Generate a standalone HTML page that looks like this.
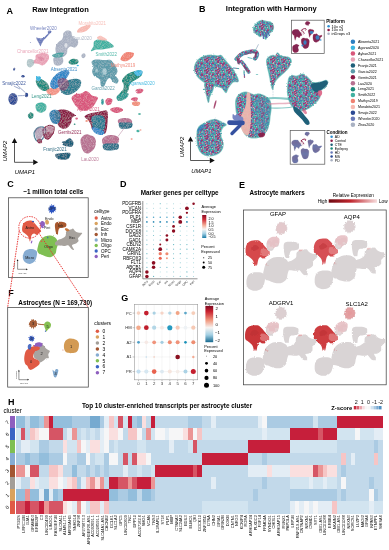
<!DOCTYPE html><html><head><meta charset="utf-8"><style>html,body{margin:0;padding:0;background:#fff;overflow:hidden}svg{display:block}text{font-family:"Liberation Sans",Arial,sans-serif}</style></head><body>
<svg width="389" height="550" viewBox="0 0 389 550">
<rect width="389" height="550" fill="#fff"/>
<g shape-rendering="crispEdges">
<rect x="16.20" y="416.10" width="9.34" height="12.22" fill="#93bedc"/>
<rect x="25.49" y="416.10" width="4.69" height="12.22" fill="#c2d9ea"/>
<rect x="30.13" y="416.10" width="9.34" height="12.22" fill="#93bedc"/>
<rect x="39.42" y="416.10" width="4.69" height="12.22" fill="#abcbe3"/>
<rect x="44.06" y="416.10" width="4.69" height="12.22" fill="#eb9595"/>
<rect x="48.70" y="416.10" width="4.69" height="12.22" fill="#c61f3b"/>
<rect x="53.34" y="416.10" width="18.62" height="12.22" fill="#93bedc"/>
<rect x="71.92" y="416.10" width="18.62" height="12.22" fill="#abcbe3"/>
<rect x="90.49" y="416.10" width="9.34" height="12.22" fill="#76aad0"/>
<rect x="99.77" y="416.10" width="4.69" height="12.22" fill="#abcbe3"/>
<rect x="104.42" y="416.10" width="4.69" height="12.22" fill="#e3edf5"/>
<rect x="109.06" y="416.10" width="4.69" height="12.22" fill="#f6c5c5"/>
<rect x="113.70" y="416.10" width="4.69" height="12.22" fill="#d2e4f0"/>
<rect x="118.35" y="416.10" width="4.69" height="12.22" fill="#d65565"/>
<rect x="122.99" y="416.10" width="4.69" height="12.22" fill="#d2e4f0"/>
<rect x="127.63" y="416.10" width="4.69" height="12.22" fill="#c61f3b"/>
<rect x="132.28" y="416.10" width="4.69" height="12.22" fill="#abcbe3"/>
<rect x="136.92" y="416.10" width="4.69" height="12.22" fill="#93bedc"/>
<rect x="141.56" y="416.10" width="4.69" height="12.22" fill="#fadfdf"/>
<rect x="146.21" y="416.10" width="4.69" height="12.22" fill="#c2d9ea"/>
<rect x="150.85" y="416.10" width="4.69" height="12.22" fill="#c61f3b"/>
<rect x="155.49" y="416.10" width="32.55" height="12.22" fill="#c2d9ea"/>
<rect x="187.99" y="416.10" width="13.98" height="12.22" fill="#abcbe3"/>
<rect x="201.92" y="416.10" width="9.34" height="12.22" fill="#c2d9ea"/>
<rect x="211.21" y="416.10" width="4.69" height="12.22" fill="#e3edf5"/>
<rect x="215.85" y="416.10" width="41.84" height="12.22" fill="#c2d9ea"/>
<rect x="257.64" y="416.10" width="4.69" height="12.22" fill="#e3edf5"/>
<rect x="262.28" y="416.10" width="4.69" height="12.22" fill="#f6f6f7"/>
<rect x="266.92" y="416.10" width="46.48" height="12.22" fill="#abcbe3"/>
<rect x="313.35" y="416.10" width="4.69" height="12.22" fill="#d2e4f0"/>
<rect x="318.00" y="416.10" width="18.62" height="12.22" fill="#abcbe3"/>
<rect x="336.57" y="416.10" width="46.48" height="12.22" fill="#c61f3b"/>
<rect x="10.2" y="416.10" width="4.9" height="12.22" fill="#8e5fbf"/>
<rect x="16.20" y="428.28" width="4.69" height="12.22" fill="#d2e4f0"/>
<rect x="20.84" y="428.28" width="4.69" height="12.22" fill="#d65565"/>
<rect x="25.49" y="428.28" width="4.69" height="12.22" fill="#c2d9ea"/>
<rect x="30.13" y="428.28" width="4.69" height="12.22" fill="#f6c5c5"/>
<rect x="34.77" y="428.28" width="4.69" height="12.22" fill="#fadfdf"/>
<rect x="39.42" y="428.28" width="9.34" height="12.22" fill="#f6f6f7"/>
<rect x="48.70" y="428.28" width="13.98" height="12.22" fill="#d65565"/>
<rect x="62.63" y="428.28" width="4.69" height="12.22" fill="#c2d9ea"/>
<rect x="67.27" y="428.28" width="4.69" height="12.22" fill="#e3edf5"/>
<rect x="71.92" y="428.28" width="4.69" height="12.22" fill="#eb9595"/>
<rect x="76.56" y="428.28" width="4.69" height="12.22" fill="#c2d9ea"/>
<rect x="81.20" y="428.28" width="4.69" height="12.22" fill="#d2e4f0"/>
<rect x="85.85" y="428.28" width="4.69" height="12.22" fill="#c2d9ea"/>
<rect x="90.49" y="428.28" width="4.69" height="12.22" fill="#d2e4f0"/>
<rect x="95.13" y="428.28" width="4.69" height="12.22" fill="#c2d9ea"/>
<rect x="99.77" y="428.28" width="4.69" height="12.22" fill="#e3edf5"/>
<rect x="104.42" y="428.28" width="4.69" height="12.22" fill="#f6f6f7"/>
<rect x="109.06" y="428.28" width="9.34" height="12.22" fill="#fadfdf"/>
<rect x="118.35" y="428.28" width="4.69" height="12.22" fill="#f6f6f7"/>
<rect x="122.99" y="428.28" width="4.69" height="12.22" fill="#c2d9ea"/>
<rect x="127.63" y="428.28" width="9.34" height="12.22" fill="#f6c5c5"/>
<rect x="136.92" y="428.28" width="4.69" height="12.22" fill="#f6f6f7"/>
<rect x="141.56" y="428.28" width="4.69" height="12.22" fill="#c2d9ea"/>
<rect x="146.21" y="428.28" width="4.69" height="12.22" fill="#eb9595"/>
<rect x="150.85" y="428.28" width="4.69" height="12.22" fill="#d2e4f0"/>
<rect x="155.49" y="428.28" width="9.34" height="12.22" fill="#f6f6f7"/>
<rect x="164.78" y="428.28" width="4.69" height="12.22" fill="#e3edf5"/>
<rect x="169.42" y="428.28" width="13.98" height="12.22" fill="#f6f6f7"/>
<rect x="183.35" y="428.28" width="4.69" height="12.22" fill="#fadfdf"/>
<rect x="187.99" y="428.28" width="4.69" height="12.22" fill="#eb9595"/>
<rect x="192.64" y="428.28" width="4.69" height="12.22" fill="#f6f6f7"/>
<rect x="197.28" y="428.28" width="4.69" height="12.22" fill="#f6c5c5"/>
<rect x="201.92" y="428.28" width="60.41" height="12.22" fill="#d2e4f0"/>
<rect x="262.28" y="428.28" width="4.69" height="12.22" fill="#e3edf5"/>
<rect x="266.92" y="428.28" width="23.27" height="12.22" fill="#d2e4f0"/>
<rect x="290.14" y="428.28" width="27.91" height="12.22" fill="#c61f3b"/>
<rect x="318.00" y="428.28" width="4.69" height="12.22" fill="#d65565"/>
<rect x="322.64" y="428.28" width="13.98" height="12.22" fill="#c61f3b"/>
<rect x="336.57" y="428.28" width="18.62" height="12.22" fill="#d2e4f0"/>
<rect x="355.14" y="428.28" width="4.69" height="12.22" fill="#f6f6f7"/>
<rect x="359.78" y="428.28" width="13.98" height="12.22" fill="#d2e4f0"/>
<rect x="373.71" y="428.28" width="9.34" height="12.22" fill="#e3edf5"/>
<rect x="10.2" y="428.28" width="4.9" height="12.22" fill="#3a63c4"/>
<rect x="16.20" y="440.45" width="4.69" height="12.22" fill="#c2d9ea"/>
<rect x="20.84" y="440.45" width="9.34" height="12.22" fill="#e3edf5"/>
<rect x="30.13" y="440.45" width="9.34" height="12.22" fill="#d2e4f0"/>
<rect x="39.42" y="440.45" width="9.34" height="12.22" fill="#abcbe3"/>
<rect x="48.70" y="440.45" width="13.98" height="12.22" fill="#c2d9ea"/>
<rect x="62.63" y="440.45" width="4.69" height="12.22" fill="#fadfdf"/>
<rect x="67.27" y="440.45" width="9.34" height="12.22" fill="#d2e4f0"/>
<rect x="76.56" y="440.45" width="4.69" height="12.22" fill="#f6c5c5"/>
<rect x="81.20" y="440.45" width="4.69" height="12.22" fill="#f6f6f7"/>
<rect x="85.85" y="440.45" width="4.69" height="12.22" fill="#e3edf5"/>
<rect x="90.49" y="440.45" width="9.34" height="12.22" fill="#fadfdf"/>
<rect x="99.77" y="440.45" width="4.69" height="12.22" fill="#e3edf5"/>
<rect x="104.42" y="440.45" width="4.69" height="12.22" fill="#f6f6f7"/>
<rect x="109.06" y="440.45" width="4.69" height="12.22" fill="#c2d9ea"/>
<rect x="113.70" y="440.45" width="4.69" height="12.22" fill="#d2e4f0"/>
<rect x="118.35" y="440.45" width="18.62" height="12.22" fill="#c2d9ea"/>
<rect x="136.92" y="440.45" width="9.34" height="12.22" fill="#d2e4f0"/>
<rect x="146.21" y="440.45" width="23.27" height="12.22" fill="#c2d9ea"/>
<rect x="169.42" y="440.45" width="4.69" height="12.22" fill="#e3edf5"/>
<rect x="174.06" y="440.45" width="13.98" height="12.22" fill="#c2d9ea"/>
<rect x="187.99" y="440.45" width="4.69" height="12.22" fill="#d2e4f0"/>
<rect x="192.64" y="440.45" width="4.69" height="12.22" fill="#d65565"/>
<rect x="197.28" y="440.45" width="51.12" height="12.22" fill="#c2d9ea"/>
<rect x="248.35" y="440.45" width="41.84" height="12.22" fill="#c61f3b"/>
<rect x="290.14" y="440.45" width="46.48" height="12.22" fill="#d2e4f0"/>
<rect x="336.57" y="440.45" width="37.19" height="12.22" fill="#c2d9ea"/>
<rect x="373.71" y="440.45" width="4.69" height="12.22" fill="#abcbe3"/>
<rect x="378.36" y="440.45" width="4.69" height="12.22" fill="#c2d9ea"/>
<rect x="10.2" y="440.45" width="4.9" height="12.22" fill="#7fbf52"/>
<rect x="16.20" y="452.62" width="9.34" height="12.22" fill="#abcbe3"/>
<rect x="25.49" y="452.62" width="4.69" height="12.22" fill="#93bedc"/>
<rect x="30.13" y="452.62" width="9.34" height="12.22" fill="#abcbe3"/>
<rect x="39.42" y="452.62" width="9.34" height="12.22" fill="#93bedc"/>
<rect x="48.70" y="452.62" width="13.98" height="12.22" fill="#abcbe3"/>
<rect x="62.63" y="452.62" width="4.69" height="12.22" fill="#f6f6f7"/>
<rect x="67.27" y="452.62" width="9.34" height="12.22" fill="#c2d9ea"/>
<rect x="76.56" y="452.62" width="9.34" height="12.22" fill="#abcbe3"/>
<rect x="85.85" y="452.62" width="4.69" height="12.22" fill="#f6f6f7"/>
<rect x="90.49" y="452.62" width="4.69" height="12.22" fill="#c2d9ea"/>
<rect x="95.13" y="452.62" width="9.34" height="12.22" fill="#d2e4f0"/>
<rect x="104.42" y="452.62" width="4.69" height="12.22" fill="#abcbe3"/>
<rect x="109.06" y="452.62" width="9.34" height="12.22" fill="#f6f6f7"/>
<rect x="118.35" y="452.62" width="4.69" height="12.22" fill="#c2d9ea"/>
<rect x="122.99" y="452.62" width="4.69" height="12.22" fill="#d65565"/>
<rect x="127.63" y="452.62" width="4.69" height="12.22" fill="#c2d9ea"/>
<rect x="132.28" y="452.62" width="4.69" height="12.22" fill="#d65565"/>
<rect x="136.92" y="452.62" width="9.34" height="12.22" fill="#fadfdf"/>
<rect x="146.21" y="452.62" width="4.69" height="12.22" fill="#f6f6f7"/>
<rect x="150.85" y="452.62" width="51.12" height="12.22" fill="#c2d9ea"/>
<rect x="201.92" y="452.62" width="46.48" height="12.22" fill="#c61f3b"/>
<rect x="248.35" y="452.62" width="13.98" height="12.22" fill="#c2d9ea"/>
<rect x="262.28" y="452.62" width="4.69" height="12.22" fill="#abcbe3"/>
<rect x="266.92" y="452.62" width="74.34" height="12.22" fill="#c2d9ea"/>
<rect x="341.21" y="452.62" width="4.69" height="12.22" fill="#f6c5c5"/>
<rect x="345.86" y="452.62" width="4.69" height="12.22" fill="#c2d9ea"/>
<rect x="350.50" y="452.62" width="4.69" height="12.22" fill="#e3edf5"/>
<rect x="355.14" y="452.62" width="18.62" height="12.22" fill="#c2d9ea"/>
<rect x="373.71" y="452.62" width="4.69" height="12.22" fill="#f6c5c5"/>
<rect x="378.36" y="452.62" width="4.69" height="12.22" fill="#c2d9ea"/>
<rect x="10.2" y="452.62" width="4.9" height="12.22" fill="#86acd2"/>
<rect x="16.20" y="464.80" width="9.34" height="12.22" fill="#eb9595"/>
<rect x="25.49" y="464.80" width="4.69" height="12.22" fill="#f6f6f7"/>
<rect x="30.13" y="464.80" width="9.34" height="12.22" fill="#d65565"/>
<rect x="39.42" y="464.80" width="9.34" height="12.22" fill="#c2d9ea"/>
<rect x="48.70" y="464.80" width="9.34" height="12.22" fill="#f6c5c5"/>
<rect x="57.99" y="464.80" width="4.69" height="12.22" fill="#fadfdf"/>
<rect x="62.63" y="464.80" width="9.34" height="12.22" fill="#c2d9ea"/>
<rect x="71.92" y="464.80" width="4.69" height="12.22" fill="#93bedc"/>
<rect x="76.56" y="464.80" width="9.34" height="12.22" fill="#c2d9ea"/>
<rect x="85.85" y="464.80" width="4.69" height="12.22" fill="#abcbe3"/>
<rect x="90.49" y="464.80" width="4.69" height="12.22" fill="#c2d9ea"/>
<rect x="95.13" y="464.80" width="4.69" height="12.22" fill="#abcbe3"/>
<rect x="99.77" y="464.80" width="4.69" height="12.22" fill="#c2d9ea"/>
<rect x="104.42" y="464.80" width="4.69" height="12.22" fill="#abcbe3"/>
<rect x="109.06" y="464.80" width="13.98" height="12.22" fill="#c2d9ea"/>
<rect x="122.99" y="464.80" width="4.69" height="12.22" fill="#e3edf5"/>
<rect x="127.63" y="464.80" width="9.34" height="12.22" fill="#c2d9ea"/>
<rect x="136.92" y="464.80" width="4.69" height="12.22" fill="#d2e4f0"/>
<rect x="141.56" y="464.80" width="9.34" height="12.22" fill="#c2d9ea"/>
<rect x="150.85" y="464.80" width="4.69" height="12.22" fill="#d2e4f0"/>
<rect x="155.49" y="464.80" width="37.19" height="12.22" fill="#c61f3b"/>
<rect x="192.64" y="464.80" width="4.69" height="12.22" fill="#d65565"/>
<rect x="197.28" y="464.80" width="4.69" height="12.22" fill="#c61f3b"/>
<rect x="201.92" y="464.80" width="46.48" height="12.22" fill="#c2d9ea"/>
<rect x="248.35" y="464.80" width="18.62" height="12.22" fill="#e3edf5"/>
<rect x="266.92" y="464.80" width="4.69" height="12.22" fill="#fadfdf"/>
<rect x="271.57" y="464.80" width="18.62" height="12.22" fill="#e3edf5"/>
<rect x="290.14" y="464.80" width="23.27" height="12.22" fill="#fadfdf"/>
<rect x="313.35" y="464.80" width="4.69" height="12.22" fill="#d65565"/>
<rect x="318.00" y="464.80" width="4.69" height="12.22" fill="#eb9595"/>
<rect x="322.64" y="464.80" width="4.69" height="12.22" fill="#f6c5c5"/>
<rect x="327.28" y="464.80" width="9.34" height="12.22" fill="#fadfdf"/>
<rect x="336.57" y="464.80" width="4.69" height="12.22" fill="#c2d9ea"/>
<rect x="341.21" y="464.80" width="4.69" height="12.22" fill="#abcbe3"/>
<rect x="345.86" y="464.80" width="37.19" height="12.22" fill="#c2d9ea"/>
<rect x="10.2" y="464.80" width="4.9" height="12.22" fill="#a35632"/>
<rect x="16.20" y="476.98" width="4.69" height="12.22" fill="#e3edf5"/>
<rect x="20.84" y="476.98" width="9.34" height="12.22" fill="#c2d9ea"/>
<rect x="30.13" y="476.98" width="4.69" height="12.22" fill="#fadfdf"/>
<rect x="34.77" y="476.98" width="4.69" height="12.22" fill="#e3edf5"/>
<rect x="39.42" y="476.98" width="9.34" height="12.22" fill="#d2e4f0"/>
<rect x="48.70" y="476.98" width="9.34" height="12.22" fill="#fadfdf"/>
<rect x="57.99" y="476.98" width="4.69" height="12.22" fill="#f6f6f7"/>
<rect x="62.63" y="476.98" width="4.69" height="12.22" fill="#e3edf5"/>
<rect x="67.27" y="476.98" width="4.69" height="12.22" fill="#fadfdf"/>
<rect x="71.92" y="476.98" width="4.69" height="12.22" fill="#f6c5c5"/>
<rect x="76.56" y="476.98" width="4.69" height="12.22" fill="#abcbe3"/>
<rect x="81.20" y="476.98" width="4.69" height="12.22" fill="#e3edf5"/>
<rect x="85.85" y="476.98" width="4.69" height="12.22" fill="#f6c5c5"/>
<rect x="90.49" y="476.98" width="4.69" height="12.22" fill="#eb9595"/>
<rect x="95.13" y="476.98" width="4.69" height="12.22" fill="#fadfdf"/>
<rect x="99.77" y="476.98" width="4.69" height="12.22" fill="#eb9595"/>
<rect x="104.42" y="476.98" width="4.69" height="12.22" fill="#c2d9ea"/>
<rect x="109.06" y="476.98" width="9.34" height="12.22" fill="#c61f3b"/>
<rect x="118.35" y="476.98" width="9.34" height="12.22" fill="#d65565"/>
<rect x="127.63" y="476.98" width="4.69" height="12.22" fill="#eb9595"/>
<rect x="132.28" y="476.98" width="4.69" height="12.22" fill="#d65565"/>
<rect x="136.92" y="476.98" width="13.98" height="12.22" fill="#c61f3b"/>
<rect x="150.85" y="476.98" width="4.69" height="12.22" fill="#eb9595"/>
<rect x="155.49" y="476.98" width="55.77" height="12.22" fill="#c2d9ea"/>
<rect x="211.21" y="476.98" width="4.69" height="12.22" fill="#e3edf5"/>
<rect x="215.85" y="476.98" width="46.48" height="12.22" fill="#c2d9ea"/>
<rect x="262.28" y="476.98" width="4.69" height="12.22" fill="#abcbe3"/>
<rect x="266.92" y="476.98" width="23.27" height="12.22" fill="#c2d9ea"/>
<rect x="290.14" y="476.98" width="18.62" height="12.22" fill="#d2e4f0"/>
<rect x="308.71" y="476.98" width="4.69" height="12.22" fill="#e3edf5"/>
<rect x="313.35" y="476.98" width="9.34" height="12.22" fill="#d2e4f0"/>
<rect x="322.64" y="476.98" width="4.69" height="12.22" fill="#e3edf5"/>
<rect x="327.28" y="476.98" width="9.34" height="12.22" fill="#d2e4f0"/>
<rect x="336.57" y="476.98" width="4.69" height="12.22" fill="#c2d9ea"/>
<rect x="341.21" y="476.98" width="4.69" height="12.22" fill="#f6f6f7"/>
<rect x="345.86" y="476.98" width="23.27" height="12.22" fill="#c2d9ea"/>
<rect x="369.07" y="476.98" width="4.69" height="12.22" fill="#abcbe3"/>
<rect x="373.71" y="476.98" width="9.34" height="12.22" fill="#c2d9ea"/>
<rect x="10.2" y="476.98" width="4.9" height="12.22" fill="#a39e98"/>
<rect x="16.20" y="489.15" width="9.34" height="12.22" fill="#93bedc"/>
<rect x="25.49" y="489.15" width="4.69" height="12.22" fill="#eb9595"/>
<rect x="30.13" y="489.15" width="9.34" height="12.22" fill="#93bedc"/>
<rect x="39.42" y="489.15" width="4.69" height="12.22" fill="#e3edf5"/>
<rect x="44.06" y="489.15" width="4.69" height="12.22" fill="#76aad0"/>
<rect x="48.70" y="489.15" width="4.69" height="12.22" fill="#e3edf5"/>
<rect x="53.34" y="489.15" width="4.69" height="12.22" fill="#93bedc"/>
<rect x="57.99" y="489.15" width="4.69" height="12.22" fill="#abcbe3"/>
<rect x="62.63" y="489.15" width="46.48" height="12.22" fill="#c61f3b"/>
<rect x="109.06" y="489.15" width="9.34" height="12.22" fill="#93bedc"/>
<rect x="118.35" y="489.15" width="9.34" height="12.22" fill="#abcbe3"/>
<rect x="127.63" y="489.15" width="9.34" height="12.22" fill="#93bedc"/>
<rect x="136.92" y="489.15" width="4.69" height="12.22" fill="#c2d9ea"/>
<rect x="141.56" y="489.15" width="9.34" height="12.22" fill="#93bedc"/>
<rect x="150.85" y="489.15" width="4.69" height="12.22" fill="#abcbe3"/>
<rect x="155.49" y="489.15" width="97.55" height="12.22" fill="#c2d9ea"/>
<rect x="252.99" y="489.15" width="4.69" height="12.22" fill="#abcbe3"/>
<rect x="257.64" y="489.15" width="32.55" height="12.22" fill="#c2d9ea"/>
<rect x="290.14" y="489.15" width="46.48" height="12.22" fill="#abcbe3"/>
<rect x="336.57" y="489.15" width="4.69" height="12.22" fill="#c2d9ea"/>
<rect x="341.21" y="489.15" width="4.69" height="12.22" fill="#abcbe3"/>
<rect x="345.86" y="489.15" width="23.27" height="12.22" fill="#c2d9ea"/>
<rect x="369.07" y="489.15" width="4.69" height="12.22" fill="#f6f6f7"/>
<rect x="373.71" y="489.15" width="4.69" height="12.22" fill="#abcbe3"/>
<rect x="378.36" y="489.15" width="4.69" height="12.22" fill="#c2d9ea"/>
<rect x="10.2" y="489.15" width="4.9" height="12.22" fill="#d9a25e"/>
<rect x="16.20" y="501.32" width="9.34" height="12.22" fill="#d65565"/>
<rect x="25.49" y="501.32" width="4.69" height="12.22" fill="#c61f3b"/>
<rect x="30.13" y="501.32" width="9.34" height="12.22" fill="#d65565"/>
<rect x="39.42" y="501.32" width="4.69" height="12.22" fill="#c61f3b"/>
<rect x="44.06" y="501.32" width="4.69" height="12.22" fill="#eb9595"/>
<rect x="48.70" y="501.32" width="13.98" height="12.22" fill="#d65565"/>
<rect x="62.63" y="501.32" width="4.69" height="12.22" fill="#fadfdf"/>
<rect x="67.27" y="501.32" width="4.69" height="12.22" fill="#f6f6f7"/>
<rect x="71.92" y="501.32" width="4.69" height="12.22" fill="#e3edf5"/>
<rect x="76.56" y="501.32" width="4.69" height="12.22" fill="#eb9595"/>
<rect x="81.20" y="501.32" width="4.69" height="12.22" fill="#f6f6f7"/>
<rect x="85.85" y="501.32" width="4.69" height="12.22" fill="#d2e4f0"/>
<rect x="90.49" y="501.32" width="9.34" height="12.22" fill="#f6c5c5"/>
<rect x="99.77" y="501.32" width="4.69" height="12.22" fill="#e3edf5"/>
<rect x="104.42" y="501.32" width="4.69" height="12.22" fill="#f6c5c5"/>
<rect x="109.06" y="501.32" width="92.91" height="12.22" fill="#c2d9ea"/>
<rect x="201.92" y="501.32" width="46.48" height="12.22" fill="#d2e4f0"/>
<rect x="248.35" y="501.32" width="41.84" height="12.22" fill="#c2d9ea"/>
<rect x="290.14" y="501.32" width="4.69" height="12.22" fill="#e3edf5"/>
<rect x="294.78" y="501.32" width="4.69" height="12.22" fill="#f6f6f7"/>
<rect x="299.43" y="501.32" width="4.69" height="12.22" fill="#e3edf5"/>
<rect x="304.07" y="501.32" width="4.69" height="12.22" fill="#f6f6f7"/>
<rect x="308.71" y="501.32" width="4.69" height="12.22" fill="#e3edf5"/>
<rect x="313.35" y="501.32" width="4.69" height="12.22" fill="#f6f6f7"/>
<rect x="318.00" y="501.32" width="13.98" height="12.22" fill="#e3edf5"/>
<rect x="331.93" y="501.32" width="4.69" height="12.22" fill="#f6c5c5"/>
<rect x="336.57" y="501.32" width="32.55" height="12.22" fill="#d2e4f0"/>
<rect x="369.07" y="501.32" width="4.69" height="12.22" fill="#e3edf5"/>
<rect x="373.71" y="501.32" width="9.34" height="12.22" fill="#d2e4f0"/>
<rect x="10.2" y="501.32" width="4.9" height="12.22" fill="#e05a45"/>
</g>
<text transform="translate(7.4,422.19) rotate(-45)" font-size="5.0" text-anchor="middle" dy="1.7" fill="#000">7</text>
<text transform="translate(7.4,434.36) rotate(-45)" font-size="5.0" text-anchor="middle" dy="1.7" fill="#000">6</text>
<text transform="translate(7.4,446.54) rotate(-45)" font-size="5.0" text-anchor="middle" dy="1.7" fill="#000">5</text>
<text transform="translate(7.4,458.71) rotate(-45)" font-size="5.0" text-anchor="middle" dy="1.7" fill="#000">4</text>
<text transform="translate(7.4,470.89) rotate(-45)" font-size="5.0" text-anchor="middle" dy="1.7" fill="#000">3</text>
<text transform="translate(7.4,483.06) rotate(-45)" font-size="5.0" text-anchor="middle" dy="1.7" fill="#000">2</text>
<text transform="translate(7.4,495.24) rotate(-45)" font-size="5.0" text-anchor="middle" dy="1.7" fill="#000">1</text>
<text transform="translate(7.4,507.41) rotate(-45)" font-size="5.0" text-anchor="middle" dy="1.7" fill="#000">0</text>
<text transform="translate(19.92,515.2) rotate(-90)" font-size="3.9" text-anchor="end" fill="#111">PTGDS</text>
<text transform="translate(24.56,515.2) rotate(-90)" font-size="3.9" text-anchor="end" fill="#111">LRRC10B</text>
<text transform="translate(29.21,515.2) rotate(-90)" font-size="3.9" text-anchor="end" fill="#111">GJA1</text>
<text transform="translate(33.85,515.2) rotate(-90)" font-size="3.9" text-anchor="end" fill="#111">GRAMD3</text>
<text transform="translate(38.49,515.2) rotate(-90)" font-size="3.9" text-anchor="end" fill="#111">ERBB2IP</text>
<text transform="translate(43.14,515.2) rotate(-90)" font-size="3.9" text-anchor="end" fill="#111">C3</text>
<text transform="translate(47.78,515.2) rotate(-90)" font-size="3.9" text-anchor="end" fill="#111">LINC00499</text>
<text transform="translate(52.42,515.2) rotate(-90)" font-size="3.9" text-anchor="end" fill="#111">LINGO1</text>
<text transform="translate(57.07,515.2) rotate(-90)" font-size="3.9" text-anchor="end" fill="#111">RASGEF1B</text>
<text transform="translate(61.71,515.2) rotate(-90)" font-size="3.9" text-anchor="end" fill="#111">SLC6A11</text>
<text transform="translate(66.35,515.2) rotate(-90)" font-size="3.9" text-anchor="end" fill="#111">ALMS1-IT1</text>
<text transform="translate(70.99,515.2) rotate(-90)" font-size="3.9" text-anchor="end" fill="#111">MIR99AHG</text>
<text transform="translate(75.64,515.2) rotate(-90)" font-size="3.9" text-anchor="end" fill="#111">SNHG14</text>
<text transform="translate(80.28,515.2) rotate(-90)" font-size="3.9" text-anchor="end" fill="#111">ZNF98</text>
<text transform="translate(84.92,515.2) rotate(-90)" font-size="3.9" text-anchor="end" fill="#111">AF279873.3</text>
<text transform="translate(89.57,515.2) rotate(-90)" font-size="3.9" text-anchor="end" fill="#111">ARHGEF26-AS1</text>
<text transform="translate(94.21,515.2) rotate(-90)" font-size="3.9" text-anchor="end" fill="#111">AC092691.1</text>
<text transform="translate(98.85,515.2) rotate(-90)" font-size="3.9" text-anchor="end" fill="#111">AC008591.1</text>
<text transform="translate(103.50,515.2) rotate(-90)" font-size="3.9" text-anchor="end" fill="#111">SLC44A1-AS1</text>
<text transform="translate(108.14,515.2) rotate(-90)" font-size="3.9" text-anchor="end" fill="#111">CACNB2</text>
<text transform="translate(112.78,515.2) rotate(-90)" font-size="3.9" text-anchor="end" fill="#111">DCLK1</text>
<text transform="translate(117.43,515.2) rotate(-90)" font-size="3.9" text-anchor="end" fill="#111">SLC1A2</text>
<text transform="translate(122.07,515.2) rotate(-90)" font-size="3.9" text-anchor="end" fill="#111">GPC5</text>
<text transform="translate(126.71,515.2) rotate(-90)" font-size="3.9" text-anchor="end" fill="#111">LINC00609</text>
<text transform="translate(131.35,515.2) rotate(-90)" font-size="3.9" text-anchor="end" fill="#111">TNC</text>
<text transform="translate(136.00,515.2) rotate(-90)" font-size="3.9" text-anchor="end" fill="#111">DPP10</text>
<text transform="translate(140.64,515.2) rotate(-90)" font-size="3.9" text-anchor="end" fill="#111">AC007182.6</text>
<text transform="translate(145.28,515.2) rotate(-90)" font-size="3.9" text-anchor="end" fill="#111">SMG1</text>
<text transform="translate(149.93,515.2) rotate(-90)" font-size="3.9" text-anchor="end" fill="#111">VCAN</text>
<text transform="translate(154.57,515.2) rotate(-90)" font-size="3.9" text-anchor="end" fill="#111">TNS3</text>
<text transform="translate(159.21,515.2) rotate(-90)" font-size="3.9" text-anchor="end" fill="#111">IL1RAPL1</text>
<text transform="translate(163.86,515.2) rotate(-90)" font-size="3.9" text-anchor="end" fill="#111">ST18</text>
<text transform="translate(168.50,515.2) rotate(-90)" font-size="3.9" text-anchor="end" fill="#111">PLP1</text>
<text transform="translate(173.14,515.2) rotate(-90)" font-size="3.9" text-anchor="end" fill="#111">MBP</text>
<text transform="translate(177.78,515.2) rotate(-90)" font-size="3.9" text-anchor="end" fill="#111">CTNNA3</text>
<text transform="translate(182.43,515.2) rotate(-90)" font-size="3.9" text-anchor="end" fill="#111">SLC24A2</text>
<text transform="translate(187.07,515.2) rotate(-90)" font-size="3.9" text-anchor="end" fill="#111">EDIL3</text>
<text transform="translate(191.71,515.2) rotate(-90)" font-size="3.9" text-anchor="end" fill="#111">ELMO1</text>
<text transform="translate(196.36,515.2) rotate(-90)" font-size="3.9" text-anchor="end" fill="#111">QKI</text>
<text transform="translate(201.00,515.2) rotate(-90)" font-size="3.9" text-anchor="end" fill="#111">DOCK10</text>
<text transform="translate(205.64,515.2) rotate(-90)" font-size="3.9" text-anchor="end" fill="#111">ZNF385D</text>
<text transform="translate(210.29,515.2) rotate(-90)" font-size="3.9" text-anchor="end" fill="#111">DTNA</text>
<text transform="translate(214.93,515.2) rotate(-90)" font-size="3.9" text-anchor="end" fill="#111">CHN2</text>
<text transform="translate(219.57,515.2) rotate(-90)" font-size="3.9" text-anchor="end" fill="#111">GRIA1</text>
<text transform="translate(224.22,515.2) rotate(-90)" font-size="3.9" text-anchor="end" fill="#111">GRIN2B</text>
<text transform="translate(228.86,515.2) rotate(-90)" font-size="3.9" text-anchor="end" fill="#111">DGKB</text>
<text transform="translate(233.50,515.2) rotate(-90)" font-size="3.9" text-anchor="end" fill="#111">CNTN1</text>
<text transform="translate(238.14,515.2) rotate(-90)" font-size="3.9" text-anchor="end" fill="#111">NRG3</text>
<text transform="translate(242.79,515.2) rotate(-90)" font-size="3.9" text-anchor="end" fill="#111">KCNIP4</text>
<text transform="translate(247.43,515.2) rotate(-90)" font-size="3.9" text-anchor="end" fill="#111">RORA</text>
<text transform="translate(252.07,515.2) rotate(-90)" font-size="3.9" text-anchor="end" fill="#111">ARHGAP24</text>
<text transform="translate(256.72,515.2) rotate(-90)" font-size="3.9" text-anchor="end" fill="#111">PLXDC2</text>
<text transform="translate(261.36,515.2) rotate(-90)" font-size="3.9" text-anchor="end" fill="#111">FGF14</text>
<text transform="translate(266.00,515.2) rotate(-90)" font-size="3.9" text-anchor="end" fill="#111">FRMD4A</text>
<text transform="translate(270.65,515.2) rotate(-90)" font-size="3.9" text-anchor="end" fill="#111">SYNDIG1</text>
<text transform="translate(275.29,515.2) rotate(-90)" font-size="3.9" text-anchor="end" fill="#111">CHI3L1</text>
<text transform="translate(279.93,515.2) rotate(-90)" font-size="3.9" text-anchor="end" fill="#111">ARHGAP15</text>
<text transform="translate(284.57,515.2) rotate(-90)" font-size="3.9" text-anchor="end" fill="#111">RUNX1</text>
<text transform="translate(289.22,515.2) rotate(-90)" font-size="3.9" text-anchor="end" fill="#111">PAPOLA</text>
<text transform="translate(293.86,515.2) rotate(-90)" font-size="3.9" text-anchor="end" fill="#111">LRP1B</text>
<text transform="translate(298.50,515.2) rotate(-90)" font-size="3.9" text-anchor="end" fill="#111">RNF219-AS1</text>
<text transform="translate(303.15,515.2) rotate(-90)" font-size="3.9" text-anchor="end" fill="#111">CNTNAP2</text>
<text transform="translate(307.79,515.2) rotate(-90)" font-size="3.9" text-anchor="end" fill="#111">NRXN1</text>
<text transform="translate(312.43,515.2) rotate(-90)" font-size="3.9" text-anchor="end" fill="#111">CSMD1</text>
<text transform="translate(317.08,515.2) rotate(-90)" font-size="3.9" text-anchor="end" fill="#111">SYT1</text>
<text transform="translate(321.72,515.2) rotate(-90)" font-size="3.9" text-anchor="end" fill="#111">OBI1-AS1</text>
<text transform="translate(326.36,515.2) rotate(-90)" font-size="3.9" text-anchor="end" fill="#111">LINC01088</text>
<text transform="translate(331.01,515.2) rotate(-90)" font-size="3.9" text-anchor="end" fill="#111">ERBB4</text>
<text transform="translate(335.65,515.2) rotate(-90)" font-size="3.9" text-anchor="end" fill="#111">NKAIN2</text>
<text transform="translate(340.29,515.2) rotate(-90)" font-size="3.9" text-anchor="end" fill="#111">OBI1-AS1</text>
<text transform="translate(344.93,515.2) rotate(-90)" font-size="3.9" text-anchor="end" fill="#111">LINC01088</text>
<text transform="translate(349.58,515.2) rotate(-90)" font-size="3.9" text-anchor="end" fill="#111">NRXN3</text>
<text transform="translate(354.22,515.2) rotate(-90)" font-size="3.9" text-anchor="end" fill="#111">SORCS1</text>
<text transform="translate(358.86,515.2) rotate(-90)" font-size="3.9" text-anchor="end" fill="#111">LUZP2</text>
<text transform="translate(363.51,515.2) rotate(-90)" font-size="3.9" text-anchor="end" fill="#111">MAGI2</text>
<text transform="translate(368.15,515.2) rotate(-90)" font-size="3.9" text-anchor="end" fill="#111">GRIA4</text>
<text transform="translate(372.79,515.2) rotate(-90)" font-size="3.9" text-anchor="end" fill="#111">NPAS3</text>
<text transform="translate(377.44,515.2) rotate(-90)" font-size="3.9" text-anchor="end" fill="#111">ETNPPL</text>
<text transform="translate(382.08,515.2) rotate(-90)" font-size="3.9" text-anchor="end" fill="#111">SHISA6</text>
<rect x="353.80" y="406" width="2.55" height="3.4" fill="#c8283c"/>
<rect x="356.60" y="406" width="2.55" height="3.4" fill="#d9606e"/>
<rect x="359.40" y="406" width="2.55" height="3.4" fill="#eba4ac"/>
<rect x="362.20" y="406" width="2.55" height="3.4" fill="#f6dcdf"/>
<rect x="365.00" y="406" width="2.55" height="3.4" fill="#f7f7f7"/>
<rect x="367.80" y="406" width="2.55" height="3.4" fill="#f7f7f7"/>
<rect x="370.60" y="406" width="2.55" height="3.4" fill="#d2e3f0"/>
<rect x="373.40" y="406" width="2.55" height="3.4" fill="#a9c9e2"/>
<rect x="376.20" y="406" width="2.55" height="3.4" fill="#78a9d2"/>
<rect x="379.00" y="406" width="2.55" height="3.4" fill="#4f8fc2"/>
<text x="356.20" y="404.2" font-size="5.4" text-anchor="middle" fill="#111">2</text>
<text x="362.30" y="404.2" font-size="5.4" text-anchor="middle" fill="#111">1</text>
<text x="368.40" y="404.2" font-size="5.4" text-anchor="middle" fill="#111">0</text>
<text x="374.50" y="404.2" font-size="5.4" text-anchor="middle" fill="#111">-1</text>
<text x="380.60" y="404.2" font-size="5.4" text-anchor="middle" fill="#111">-2</text>
<text x="331.30" y="409.60" font-size="5.8" font-weight="bold" fill="#000">Z-score</text>
<text x="8.00" y="405.00" font-size="9" font-weight="bold" fill="#000">H</text>
<text x="3.40" y="413.00" font-size="6.3" fill="#000">cluster</text>
<text x="81.90" y="408.20" font-size="6.37" font-weight="bold" fill="#000">Top 10 cluster-enriched transcripts per astrocyte cluster</text>
<text x="6.50" y="13.60" font-size="9" font-weight="bold" fill="#000">A</text>
<text x="198.90" y="12.40" font-size="9" font-weight="bold" fill="#000">B</text>
<text x="7.30" y="186.60" font-size="9" font-weight="bold" fill="#000">C</text>
<text x="120.00" y="187.20" font-size="9" font-weight="bold" fill="#000">D</text>
<text x="239.10" y="187.80" font-size="9" font-weight="bold" fill="#000">E</text>
<text x="8.30" y="295.80" font-size="9" font-weight="bold" fill="#000">F</text>
<text x="121.20" y="300.90" font-size="9" font-weight="bold" fill="#000">G</text>
<text x="32.20" y="12.30" font-size="7.56" font-weight="bold" fill="#000">Raw Integration</text>
<text x="225.80" y="11.20" font-size="7.56" font-weight="bold" fill="#000">Integration with Harmony</text>
<text x="23.30" y="194.40" font-size="6.3" font-weight="bold" fill="#000">~1 million total cells</text>
<text x="140.80" y="195.20" font-size="6.33" font-weight="bold" fill="#000">Marker genes per celltype</text>
<text x="249.40" y="194.60" font-size="6.32" font-weight="bold" fill="#000">Astrocyte markers</text>
<text x="18.30" y="305.00" font-size="6.38" font-weight="bold" fill="#000">Astrocytes (N = 169,730)</text>
<path d="M14.5,162.3 V143.0 M14.5,162.3 H33.2" stroke="#444" stroke-width="0.9" fill="none"/>
<path d="M11.8,143.0 L14.5,138 L17.2,143.0 Z M33.2,159.60000000000002 L38.2,162.3 L33.2,165.0 Z" fill="#111"/>
<text x="0.00" y="0.00" font-size="5.9" font-style="italic" text-anchor="middle" fill="#000" transform="translate(7.3,151) rotate(-90)">UMAP2</text>
<text x="24.80" y="174.00" font-size="5.9" font-style="italic" text-anchor="middle" fill="#000">UMAP1</text>
<path d="M190.5,160.5 V141.5 M190.5,160.5 H209.8" stroke="#444" stroke-width="0.9" fill="none"/>
<path d="M187.8,141.5 L190.5,136.5 L193.2,141.5 Z M209.8,157.8 L214.8,160.5 L209.8,163.2 Z" fill="#111"/>
<text x="0.00" y="0.00" font-size="5.9" font-style="italic" text-anchor="middle" fill="#000" transform="translate(184.3,147) rotate(-90)">UMAP2</text>
<text x="201.30" y="172.60" font-size="5.9" font-style="italic" text-anchor="middle" fill="#000">UMAP1</text>
<rect x="291.6" y="20.2" width="32.6" height="33.3" fill="none" stroke="#555" stroke-width="0.7"/>
<rect x="290.2" y="130.6" width="34.6" height="33.6" fill="none" stroke="#555" stroke-width="0.7"/>
<text x="326.30" y="22.60" font-size="4.6" font-weight="bold" fill="#000">Platform</text>
<circle cx="328.6" cy="26.20" r="1.3" fill="#2f8fd0"/>
<text x="331.60" y="27.55" font-size="3.9" fill="#000">10x v2</text>
<circle cx="328.6" cy="30.00" r="1.3" fill="#8b1a45"/>
<text x="331.60" y="31.35" font-size="3.9" fill="#000">10x v3</text>
<circle cx="328.6" cy="33.80" r="1.3" fill="#a9b1c2"/>
<text x="331.60" y="35.15" font-size="3.9" fill="#000">inDrops v3</text>
<text x="326.40" y="133.70" font-size="4.5" font-weight="bold" fill="#000">Condition</text>
<circle cx="331.6" cy="136.80" r="1.25" fill="#2f8fd0"/>
<text x="334.80" y="138.00" font-size="3.5" fill="#000">AD</text>
<circle cx="331.6" cy="140.72" r="1.25" fill="#8b1a45"/>
<text x="334.80" y="141.92" font-size="3.5" fill="#000">Control</text>
<circle cx="331.6" cy="144.64" r="1.25" fill="#1f5f78"/>
<text x="334.80" y="145.84" font-size="3.5" fill="#000">CTE</text>
<circle cx="331.6" cy="148.56" r="1.25" fill="#1b8a7a"/>
<text x="334.80" y="149.76" font-size="3.5" fill="#000">Epilepsy</text>
<circle cx="331.6" cy="152.48" r="1.25" fill="#6a7bbb"/>
<text x="334.80" y="153.68" font-size="3.5" fill="#000">HD</text>
<circle cx="331.6" cy="156.40" r="1.25" fill="#2c4a94"/>
<text x="334.80" y="157.60" font-size="3.5" fill="#000">MS</text>
<circle cx="331.6" cy="160.32" r="1.25" fill="#a9b1c2"/>
<text x="334.80" y="161.52" font-size="3.5" fill="#000">PD</text>
<circle cx="352.9" cy="41.70" r="2.25" fill="#2b7fc1"/>
<text x="358.10" y="43.00" font-size="3.6" fill="#000">Absenta2021</text>
<circle cx="352.9" cy="47.63" r="2.25" fill="#3bb6e0"/>
<text x="358.10" y="48.93" font-size="3.6" fill="#000">Agarwal2020</text>
<circle cx="352.9" cy="53.56" r="2.25" fill="#d8577b"/>
<text x="358.10" y="54.86" font-size="3.6" fill="#000">Ayhan2021</text>
<circle cx="352.9" cy="59.49" r="2.25" fill="#e9a2b6"/>
<text x="358.10" y="60.79" font-size="3.6" fill="#000">Chancellor2021</text>
<circle cx="352.9" cy="65.42" r="2.25" fill="#1f5f79"/>
<text x="358.10" y="66.72" font-size="3.6" fill="#000">Franjic2021</text>
<circle cx="352.9" cy="71.35" r="2.25" fill="#5b9aa9"/>
<text x="358.10" y="72.65" font-size="3.6" fill="#000">Garcia2022</text>
<circle cx="352.9" cy="77.28" r="2.25" fill="#8a1a45"/>
<text x="358.10" y="78.58" font-size="3.6" fill="#000">Gerrits2021</text>
<circle cx="352.9" cy="83.21" r="2.25" fill="#b77191"/>
<text x="358.10" y="84.51" font-size="3.6" fill="#000">Lau2020</text>
<circle cx="352.9" cy="89.14" r="2.25" fill="#1b8a7b"/>
<text x="358.10" y="90.44" font-size="3.6" fill="#000">Leng2021</text>
<circle cx="352.9" cy="95.07" r="2.25" fill="#41b1a1"/>
<text x="358.10" y="96.37" font-size="3.6" fill="#000">Smith2022</text>
<circle cx="352.9" cy="101.00" r="2.25" fill="#f08171"/>
<text x="358.10" y="102.30" font-size="3.6" fill="#000">Mathys2019</text>
<circle cx="352.9" cy="106.93" r="2.25" fill="#f7b9b1"/>
<text x="358.10" y="108.23" font-size="3.6" fill="#000">Morabito2021</text>
<circle cx="352.9" cy="112.86" r="2.25" fill="#2c4a94"/>
<text x="358.10" y="114.16" font-size="3.6" fill="#000">Smajic2022</text>
<circle cx="352.9" cy="118.79" r="2.25" fill="#6979b9"/>
<text x="358.10" y="120.09" font-size="3.6" fill="#000">Wheeler2020</text>
<circle cx="352.9" cy="124.72" r="2.25" fill="#a9b1c2"/>
<text x="358.10" y="126.02" font-size="3.6" fill="#000">Zhou2020</text>
<rect x="8.5" y="197.8" width="79.7" height="79.8" fill="none" stroke="#444" stroke-width="0.75"/>
<text x="94.30" y="213.00" font-size="4.5" fill="#000">celltype</text>
<circle cx="96.2" cy="218.00" r="1.65" fill="#e05a45"/>
<text x="101.10" y="219.60" font-size="4.5" fill="#000">Astro</text>
<circle cx="96.2" cy="223.50" r="1.65" fill="#d9a25e"/>
<text x="101.10" y="225.10" font-size="4.5" fill="#000">Endo</text>
<circle cx="96.2" cy="229.00" r="1.65" fill="#a39e98"/>
<text x="101.10" y="230.60" font-size="4.5" fill="#000">Exc</text>
<circle cx="96.2" cy="234.50" r="1.65" fill="#a35632"/>
<text x="101.10" y="236.10" font-size="4.5" fill="#000">Inh</text>
<circle cx="96.2" cy="240.00" r="1.65" fill="#86acd2"/>
<text x="101.10" y="241.60" font-size="4.5" fill="#000">Micro</text>
<circle cx="96.2" cy="245.50" r="1.65" fill="#7fbf52"/>
<text x="101.10" y="247.10" font-size="4.5" fill="#000">Oligo</text>
<circle cx="96.2" cy="251.00" r="1.65" fill="#3a63c4"/>
<text x="101.10" y="252.60" font-size="4.5" fill="#000">OPC</text>
<circle cx="96.2" cy="256.50" r="1.65" fill="#8e5fbf"/>
<text x="101.10" y="258.10" font-size="4.5" fill="#000">Peri</text>
<rect x="7.7" y="307.4" width="80.6" height="79.7" fill="none" stroke="#444" stroke-width="0.75"/>
<text x="94.20" y="325.40" font-size="4.9" fill="#000">clusters</text>
<circle cx="97.4" cy="331.20" r="1.75" fill="#e05a45"/>
<text x="102.60" y="332.95" font-size="4.9" fill="#000">0</text>
<circle cx="97.4" cy="337.12" r="1.75" fill="#d9a25e"/>
<text x="102.60" y="338.87" font-size="4.9" fill="#000">1</text>
<circle cx="97.4" cy="343.04" r="1.75" fill="#a39e98"/>
<text x="102.60" y="344.79" font-size="4.9" fill="#000">2</text>
<circle cx="97.4" cy="348.96" r="1.75" fill="#a35632"/>
<text x="102.60" y="350.71" font-size="4.9" fill="#000">3</text>
<circle cx="97.4" cy="354.88" r="1.75" fill="#86acd2"/>
<text x="102.60" y="356.63" font-size="4.9" fill="#000">4</text>
<circle cx="97.4" cy="360.80" r="1.75" fill="#7fbf52"/>
<text x="102.60" y="362.55" font-size="4.9" fill="#000">5</text>
<circle cx="97.4" cy="366.72" r="1.75" fill="#3a63c4"/>
<text x="102.60" y="368.47" font-size="4.9" fill="#000">6</text>
<circle cx="97.4" cy="372.64" r="1.75" fill="#8e5fbf"/>
<text x="102.60" y="374.39" font-size="4.9" fill="#000">7</text>
<rect x="243.6" y="210.0" width="142.6" height="174.8" fill="none" stroke="#444" stroke-width="0.75"/>
<text x="332.70" y="197.40" font-size="4.67" fill="#000">Relative Expression</text>
<defs><linearGradient id="relg" x1="0" x2="1" y1="0" y2="0"><stop offset="0" stop-color="#6e0a12"/><stop offset="0.45" stop-color="#c0262e"/><stop offset="1" stop-color="#f6dcdc"/></linearGradient><linearGradient id="avg1" x1="0" x2="0" y1="0" y2="1"><stop offset="0" stop-color="#8c0a22"/><stop offset="0.2" stop-color="#d0303a"/><stop offset="0.45" stop-color="#f4b09a"/><stop offset="0.62" stop-color="#f7f4f2"/><stop offset="0.8" stop-color="#a8d2e6"/><stop offset="1" stop-color="#1a7ba6"/></linearGradient><linearGradient id="avg2" x1="0" x2="0" y1="0" y2="1"><stop offset="0" stop-color="#7e0a22"/><stop offset="0.15" stop-color="#c8202e"/><stop offset="0.4" stop-color="#f19a80"/><stop offset="0.6" stop-color="#f7f4f2"/><stop offset="0.8" stop-color="#a2cfe3"/><stop offset="1" stop-color="#17698f"/></linearGradient></defs>
<rect x="328.7" y="199.3" width="48.3" height="3.4" fill="url(#relg)"/>
<text x="317.70" y="202.90" font-size="4.67" fill="#000">High</text>
<text x="379.00" y="202.90" font-size="4.67" fill="#000">Low</text>
<text x="277.90" y="215.60" font-size="6.0" text-anchor="middle" fill="#000">GFAP</text>
<text x="351.80" y="218.90" font-size="6.0" text-anchor="middle" fill="#000">AQP4</text>
<text x="281.00" y="305.30" font-size="6.0" text-anchor="middle" fill="#000">ADGRV1</text>
<text x="356.80" y="305.90" font-size="6.0" text-anchor="middle" fill="#000">SLC1A2</text>
<path d="M142.8,201 V278.8 H197.5" stroke="#777" stroke-width="0.8" fill="none"/>
<text x="141.10" y="205.30" font-size="4.55" text-anchor="end" fill="#000">PDGFRB</text>
<path d="M141.6,203.70 h1.2" stroke="#888" stroke-width="0.4"/>
<text x="141.10" y="209.84" font-size="4.55" text-anchor="end" fill="#000">VCAN</text>
<path d="M141.6,208.24 h1.2" stroke="#888" stroke-width="0.4"/>
<text x="141.10" y="214.39" font-size="4.55" text-anchor="end" fill="#000">PDGFRA</text>
<path d="M141.6,212.79 h1.2" stroke="#888" stroke-width="0.4"/>
<text x="141.10" y="218.93" font-size="4.55" text-anchor="end" fill="#000">PLP1</text>
<path d="M141.6,217.33 h1.2" stroke="#888" stroke-width="0.4"/>
<text x="141.10" y="223.48" font-size="4.55" text-anchor="end" fill="#000">MBP</text>
<path d="M141.6,221.88 h1.2" stroke="#888" stroke-width="0.4"/>
<text x="141.10" y="228.02" font-size="4.55" text-anchor="end" fill="#000">CSF1R</text>
<path d="M141.6,226.42 h1.2" stroke="#888" stroke-width="0.4"/>
<text x="141.10" y="232.57" font-size="4.55" text-anchor="end" fill="#000">DOCK8</text>
<path d="M141.6,230.97 h1.2" stroke="#888" stroke-width="0.4"/>
<text x="141.10" y="237.11" font-size="4.55" text-anchor="end" fill="#000">GAD2</text>
<path d="M141.6,235.51 h1.2" stroke="#888" stroke-width="0.4"/>
<text x="141.10" y="241.66" font-size="4.55" text-anchor="end" fill="#000">GAD1</text>
<path d="M141.6,240.06 h1.2" stroke="#888" stroke-width="0.4"/>
<text x="141.10" y="246.20" font-size="4.55" text-anchor="end" fill="#000">CBLN2</text>
<path d="M141.6,244.60 h1.2" stroke="#888" stroke-width="0.4"/>
<text x="141.10" y="250.75" font-size="4.55" text-anchor="end" fill="#000">CAMK2A</text>
<path d="M141.6,249.15 h1.2" stroke="#888" stroke-width="0.4"/>
<text x="141.10" y="255.29" font-size="4.55" text-anchor="end" fill="#000">GRIN1</text>
<path d="M141.6,253.69 h1.2" stroke="#888" stroke-width="0.4"/>
<text x="141.10" y="259.84" font-size="4.55" text-anchor="end" fill="#000">RBFOX3</text>
<path d="M141.6,258.24 h1.2" stroke="#888" stroke-width="0.4"/>
<text x="141.10" y="264.38" font-size="4.55" text-anchor="end" fill="#000">FLT1</text>
<path d="M141.6,262.78 h1.2" stroke="#888" stroke-width="0.4"/>
<text x="141.10" y="268.93" font-size="4.55" text-anchor="end" fill="#000">ABCB1</text>
<path d="M141.6,267.33 h1.2" stroke="#888" stroke-width="0.4"/>
<text x="141.10" y="273.48" font-size="4.55" text-anchor="end" fill="#000">AQP4</text>
<path d="M141.6,271.88 h1.2" stroke="#888" stroke-width="0.4"/>
<text x="141.10" y="278.02" font-size="4.55" text-anchor="end" fill="#000">GFAP</text>
<path d="M141.6,276.42 h1.2" stroke="#888" stroke-width="0.4"/>
<text transform="translate(148.10,281.6) rotate(-45)" font-size="3.0" text-anchor="end" fill="#222">Astro</text>
<text transform="translate(154.77,281.6) rotate(-45)" font-size="3.0" text-anchor="end" fill="#222">Endo</text>
<text transform="translate(161.44,281.6) rotate(-45)" font-size="3.0" text-anchor="end" fill="#222">Exc</text>
<text transform="translate(168.11,281.6) rotate(-45)" font-size="3.0" text-anchor="end" fill="#222">Inh</text>
<text transform="translate(174.78,281.6) rotate(-45)" font-size="3.0" text-anchor="end" fill="#222">Micro</text>
<text transform="translate(181.45,281.6) rotate(-45)" font-size="3.0" text-anchor="end" fill="#222">Oligo</text>
<text transform="translate(188.12,281.6) rotate(-45)" font-size="3.0" text-anchor="end" fill="#222">OPC</text>
<text transform="translate(194.79,281.6) rotate(-45)" font-size="3.0" text-anchor="end" fill="#222">Peri</text>
<circle cx="146.90" cy="203.70" r="0.50" fill="#9fd2d8"/>
<circle cx="153.57" cy="203.70" r="0.52" fill="#b6dde2"/>
<circle cx="160.24" cy="203.70" r="0.58" fill="#7cc2cc"/>
<circle cx="166.91" cy="203.70" r="0.57" fill="#b6dde2"/>
<circle cx="173.58" cy="203.70" r="0.50" fill="#9fd2d8"/>
<circle cx="180.25" cy="203.70" r="0.49" fill="#b6dde2"/>
<circle cx="186.92" cy="203.70" r="0.56" fill="#b6dde2"/>
<circle cx="146.90" cy="208.24" r="0.53" fill="#9fd2d8"/>
<circle cx="153.57" cy="208.24" r="0.50" fill="#9fd2d8"/>
<circle cx="160.24" cy="208.24" r="0.62" fill="#b6dde2"/>
<circle cx="166.91" cy="208.24" r="0.60" fill="#7cc2cc"/>
<circle cx="173.58" cy="208.24" r="0.48" fill="#7cc2cc"/>
<circle cx="180.25" cy="208.24" r="0.51" fill="#7cc2cc"/>
<circle cx="193.59" cy="208.24" r="0.61" fill="#63b6c2"/>
<circle cx="146.90" cy="212.79" r="0.54" fill="#b6dde2"/>
<circle cx="153.57" cy="212.79" r="0.59" fill="#b6dde2"/>
<circle cx="160.24" cy="212.79" r="0.53" fill="#b6dde2"/>
<circle cx="166.91" cy="212.79" r="0.64" fill="#9fd2d8"/>
<circle cx="173.58" cy="212.79" r="0.63" fill="#7cc2cc"/>
<circle cx="180.25" cy="212.79" r="0.46" fill="#b6dde2"/>
<circle cx="193.59" cy="212.79" r="0.49" fill="#b6dde2"/>
<circle cx="146.90" cy="217.33" r="0.75" fill="#4aa3c6"/>
<circle cx="153.57" cy="217.33" r="0.75" fill="#4aa3c6"/>
<circle cx="160.24" cy="217.33" r="0.75" fill="#4aa3c6"/>
<circle cx="166.91" cy="217.33" r="0.75" fill="#4aa3c6"/>
<circle cx="173.58" cy="217.33" r="0.75" fill="#4aa3c6"/>
<circle cx="186.92" cy="217.33" r="0.75" fill="#4aa3c6"/>
<circle cx="193.59" cy="217.33" r="0.61" fill="#63b6c2"/>
<circle cx="146.90" cy="221.88" r="0.85" fill="#2f8cb6"/>
<circle cx="153.57" cy="221.88" r="0.85" fill="#2f8cb6"/>
<circle cx="160.24" cy="221.88" r="0.95" fill="#2f8cb6"/>
<circle cx="166.91" cy="221.88" r="0.85" fill="#2f8cb6"/>
<circle cx="173.58" cy="221.88" r="0.85" fill="#2f8cb6"/>
<circle cx="186.92" cy="221.88" r="0.95" fill="#2f8cb6"/>
<circle cx="193.59" cy="221.88" r="0.53" fill="#b6dde2"/>
<circle cx="146.90" cy="226.42" r="0.56" fill="#b6dde2"/>
<circle cx="153.57" cy="226.42" r="0.57" fill="#63b6c2"/>
<circle cx="160.24" cy="226.42" r="0.59" fill="#7cc2cc"/>
<circle cx="166.91" cy="226.42" r="0.62" fill="#9fd2d8"/>
<circle cx="180.25" cy="226.42" r="0.59" fill="#63b6c2"/>
<circle cx="186.92" cy="226.42" r="0.64" fill="#7cc2cc"/>
<circle cx="193.59" cy="226.42" r="0.59" fill="#9fd2d8"/>
<circle cx="146.90" cy="230.97" r="0.58" fill="#63b6c2"/>
<circle cx="153.57" cy="230.97" r="0.51" fill="#7cc2cc"/>
<circle cx="160.24" cy="230.97" r="0.55" fill="#b6dde2"/>
<circle cx="166.91" cy="230.97" r="0.47" fill="#7cc2cc"/>
<circle cx="180.25" cy="230.97" r="0.53" fill="#9fd2d8"/>
<circle cx="186.92" cy="230.97" r="0.45" fill="#b6dde2"/>
<circle cx="193.59" cy="230.97" r="0.60" fill="#7cc2cc"/>
<circle cx="146.90" cy="235.51" r="0.46" fill="#7cc2cc"/>
<circle cx="153.57" cy="235.51" r="0.53" fill="#63b6c2"/>
<circle cx="160.24" cy="235.51" r="0.56" fill="#63b6c2"/>
<circle cx="173.58" cy="235.51" r="0.55" fill="#7cc2cc"/>
<circle cx="180.25" cy="235.51" r="0.51" fill="#7cc2cc"/>
<circle cx="186.92" cy="235.51" r="0.47" fill="#7cc2cc"/>
<circle cx="193.59" cy="235.51" r="0.64" fill="#b6dde2"/>
<circle cx="146.90" cy="240.06" r="0.51" fill="#63b6c2"/>
<circle cx="153.57" cy="240.06" r="0.48" fill="#7cc2cc"/>
<circle cx="160.24" cy="240.06" r="0.65" fill="#63b6c2"/>
<circle cx="173.58" cy="240.06" r="0.51" fill="#9fd2d8"/>
<circle cx="180.25" cy="240.06" r="0.63" fill="#b6dde2"/>
<circle cx="186.92" cy="240.06" r="0.53" fill="#b6dde2"/>
<circle cx="193.59" cy="240.06" r="0.58" fill="#7cc2cc"/>
<circle cx="146.90" cy="244.60" r="0.57" fill="#63b6c2"/>
<circle cx="153.57" cy="244.60" r="0.54" fill="#9fd2d8"/>
<circle cx="166.91" cy="244.60" r="0.64" fill="#b6dde2"/>
<circle cx="173.58" cy="244.60" r="0.65" fill="#63b6c2"/>
<circle cx="180.25" cy="244.60" r="0.56" fill="#7cc2cc"/>
<circle cx="186.92" cy="244.60" r="0.61" fill="#63b6c2"/>
<circle cx="193.59" cy="244.60" r="0.45" fill="#9fd2d8"/>
<circle cx="146.90" cy="249.15" r="0.46" fill="#63b6c2"/>
<circle cx="153.57" cy="249.15" r="0.54" fill="#63b6c2"/>
<circle cx="166.91" cy="249.15" r="0.57" fill="#63b6c2"/>
<circle cx="173.58" cy="249.15" r="0.60" fill="#7cc2cc"/>
<circle cx="180.25" cy="249.15" r="0.57" fill="#7cc2cc"/>
<circle cx="186.92" cy="249.15" r="0.64" fill="#63b6c2"/>
<circle cx="193.59" cy="249.15" r="0.58" fill="#63b6c2"/>
<circle cx="146.90" cy="253.69" r="0.57" fill="#63b6c2"/>
<circle cx="153.57" cy="253.69" r="0.49" fill="#9fd2d8"/>
<circle cx="173.58" cy="253.69" r="0.51" fill="#63b6c2"/>
<circle cx="180.25" cy="253.69" r="0.62" fill="#63b6c2"/>
<circle cx="186.92" cy="253.69" r="0.51" fill="#b6dde2"/>
<circle cx="193.59" cy="253.69" r="0.47" fill="#7cc2cc"/>
<circle cx="146.90" cy="258.24" r="0.64" fill="#9fd2d8"/>
<circle cx="153.57" cy="258.24" r="0.51" fill="#9fd2d8"/>
<circle cx="173.58" cy="258.24" r="0.58" fill="#63b6c2"/>
<circle cx="180.25" cy="258.24" r="0.50" fill="#9fd2d8"/>
<circle cx="186.92" cy="258.24" r="0.59" fill="#7cc2cc"/>
<circle cx="193.59" cy="258.24" r="0.47" fill="#63b6c2"/>
<circle cx="146.90" cy="262.78" r="0.64" fill="#9fd2d8"/>
<circle cx="160.24" cy="262.78" r="0.54" fill="#9fd2d8"/>
<circle cx="166.91" cy="262.78" r="0.47" fill="#9fd2d8"/>
<circle cx="173.58" cy="262.78" r="0.63" fill="#b6dde2"/>
<circle cx="180.25" cy="262.78" r="0.50" fill="#7cc2cc"/>
<circle cx="186.92" cy="262.78" r="0.46" fill="#9fd2d8"/>
<circle cx="193.59" cy="262.78" r="0.51" fill="#9fd2d8"/>
<circle cx="146.90" cy="267.33" r="0.62" fill="#63b6c2"/>
<circle cx="160.24" cy="267.33" r="0.61" fill="#7cc2cc"/>
<circle cx="166.91" cy="267.33" r="0.61" fill="#63b6c2"/>
<circle cx="173.58" cy="267.33" r="0.57" fill="#b6dde2"/>
<circle cx="180.25" cy="267.33" r="0.51" fill="#63b6c2"/>
<circle cx="186.92" cy="267.33" r="0.54" fill="#b6dde2"/>
<circle cx="193.59" cy="267.33" r="0.51" fill="#b6dde2"/>
<circle cx="153.57" cy="271.88" r="0.46" fill="#b6dde2"/>
<circle cx="160.24" cy="271.88" r="0.48" fill="#7cc2cc"/>
<circle cx="166.91" cy="271.88" r="0.55" fill="#b6dde2"/>
<circle cx="173.58" cy="271.88" r="0.56" fill="#9fd2d8"/>
<circle cx="180.25" cy="271.88" r="0.46" fill="#b6dde2"/>
<circle cx="186.92" cy="271.88" r="0.62" fill="#63b6c2"/>
<circle cx="193.59" cy="271.88" r="0.56" fill="#9fd2d8"/>
<circle cx="153.57" cy="276.42" r="0.62" fill="#63b6c2"/>
<circle cx="160.24" cy="276.42" r="0.47" fill="#9fd2d8"/>
<circle cx="166.91" cy="276.42" r="0.46" fill="#9fd2d8"/>
<circle cx="173.58" cy="276.42" r="0.63" fill="#b6dde2"/>
<circle cx="180.25" cy="276.42" r="0.57" fill="#7cc2cc"/>
<circle cx="186.92" cy="276.42" r="0.55" fill="#7cc2cc"/>
<circle cx="193.59" cy="276.42" r="0.48" fill="#63b6c2"/>
<circle cx="193.59" cy="203.70" r="1.25" fill="#8c0d22"/>
<circle cx="186.92" cy="208.24" r="1.85" fill="#8c0d22"/>
<circle cx="186.92" cy="212.79" r="1.15" fill="#8c0d22"/>
<circle cx="180.25" cy="217.33" r="1.75" fill="#8c0d22"/>
<circle cx="180.25" cy="221.88" r="1.95" fill="#8c0d22"/>
<circle cx="173.58" cy="226.42" r="1.4" fill="#8c0d22"/>
<circle cx="173.58" cy="230.97" r="1.7" fill="#8c0d22"/>
<circle cx="166.91" cy="235.51" r="1.3" fill="#8c0d22"/>
<circle cx="166.91" cy="240.06" r="1.45" fill="#8c0d22"/>
<circle cx="160.24" cy="244.60" r="1.0" fill="#8c0d22"/>
<circle cx="160.24" cy="249.15" r="1.85" fill="#8c0d22"/>
<circle cx="160.24" cy="253.69" r="1.65" fill="#ef7c66"/>
<circle cx="166.91" cy="253.69" r="1.55" fill="#f08a70"/>
<circle cx="160.24" cy="258.24" r="1.55" fill="#e8604e"/>
<circle cx="166.91" cy="258.24" r="1.0" fill="#f29a80"/>
<circle cx="153.57" cy="262.78" r="1.85" fill="#8c0d22"/>
<circle cx="153.57" cy="267.33" r="1.75" fill="#8c0d22"/>
<circle cx="146.90" cy="271.88" r="1.75" fill="#8c0d22"/>
<circle cx="146.90" cy="276.42" r="1.75" fill="#8c0d22"/>
<text x="201.50" y="208.20" font-size="3.9" fill="#000">Average</text>
<text x="201.50" y="213.20" font-size="3.9" fill="#000">Expression</text>
<rect x="202.2" y="215" width="4.1" height="23" fill="url(#avg1)"/>
<text x="208.40" y="220.30" font-size="3.7" fill="#000">2.0</text>
<text x="208.40" y="223.86" font-size="3.7" fill="#000">1.5</text>
<text x="208.40" y="227.42" font-size="3.7" fill="#000">1.0</text>
<text x="208.40" y="230.98" font-size="3.7" fill="#000">0.5</text>
<text x="208.40" y="234.54" font-size="3.7" fill="#000">0.0</text>
<text x="208.40" y="238.10" font-size="3.7" fill="#000">−0.5</text>
<text x="201.20" y="247.80" font-size="3.9" fill="#000">Percent</text>
<text x="201.20" y="252.80" font-size="3.9" fill="#000">Expressed</text>
<circle cx="203.7" cy="257.80" r="0.55" fill="#000"/>
<text x="207.90" y="259.10" font-size="3.7" fill="#000">25</text>
<circle cx="203.7" cy="262.55" r="0.95" fill="#000"/>
<text x="207.90" y="263.85" font-size="3.7" fill="#000">50</text>
<circle cx="203.7" cy="267.30" r="1.5" fill="#000"/>
<text x="207.90" y="268.60" font-size="3.7" fill="#000">75</text>
<rect x="134.5" y="304.6" width="63.2" height="75.2" fill="#fff" stroke="#999" stroke-width="0.6"/>
<path d="M138.50,304.9 V379.5" stroke="#e6e6e6" stroke-width="0.35"/>
<path d="M146.33,304.9 V379.5" stroke="#e6e6e6" stroke-width="0.35"/>
<path d="M154.16,304.9 V379.5" stroke="#e6e6e6" stroke-width="0.35"/>
<path d="M161.99,304.9 V379.5" stroke="#e6e6e6" stroke-width="0.35"/>
<path d="M169.82,304.9 V379.5" stroke="#e6e6e6" stroke-width="0.35"/>
<path d="M177.65,304.9 V379.5" stroke="#e6e6e6" stroke-width="0.35"/>
<path d="M185.48,304.9 V379.5" stroke="#e6e6e6" stroke-width="0.35"/>
<path d="M193.31,304.9 V379.5" stroke="#e6e6e6" stroke-width="0.35"/>
<path d="M134.8,313.10 H197.4" stroke="#e6e6e6" stroke-width="0.35"/>
<path d="M134.8,327.72 H197.4" stroke="#e6e6e6" stroke-width="0.35"/>
<path d="M134.8,342.34 H197.4" stroke="#e6e6e6" stroke-width="0.35"/>
<path d="M134.8,356.96 H197.4" stroke="#e6e6e6" stroke-width="0.35"/>
<path d="M134.8,371.58 H197.4" stroke="#e6e6e6" stroke-width="0.35"/>
<text x="131.60" y="314.60" font-size="4.1" text-anchor="end" fill="#333">PC</text>
<path d="M132.6,313.10 h1.9" stroke="#666" stroke-width="0.4"/>
<text x="131.60" y="329.22" font-size="4.1" text-anchor="end" fill="#333">HM</text>
<path d="M132.6,327.72 h1.9" stroke="#666" stroke-width="0.4"/>
<text x="131.60" y="343.84" font-size="4.1" text-anchor="end" fill="#333">A2</text>
<path d="M132.6,342.34 h1.9" stroke="#666" stroke-width="0.4"/>
<text x="131.60" y="358.46" font-size="4.1" text-anchor="end" fill="#333">A1</text>
<path d="M132.6,356.96 h1.9" stroke="#666" stroke-width="0.4"/>
<text x="131.60" y="373.08" font-size="4.1" text-anchor="end" fill="#333">PR</text>
<path d="M132.6,371.58 h1.9" stroke="#666" stroke-width="0.4"/>
<text x="138.50" y="385.20" font-size="4.3" text-anchor="middle" fill="#333">0</text>
<path d="M138.50,379.8 v1.4" stroke="#666" stroke-width="0.4"/>
<text x="146.33" y="385.20" font-size="4.3" text-anchor="middle" fill="#333">1</text>
<path d="M146.33,379.8 v1.4" stroke="#666" stroke-width="0.4"/>
<text x="154.16" y="385.20" font-size="4.3" text-anchor="middle" fill="#333">2</text>
<path d="M154.16,379.8 v1.4" stroke="#666" stroke-width="0.4"/>
<text x="161.99" y="385.20" font-size="4.3" text-anchor="middle" fill="#333">3</text>
<path d="M161.99,379.8 v1.4" stroke="#666" stroke-width="0.4"/>
<text x="169.82" y="385.20" font-size="4.3" text-anchor="middle" fill="#333">4</text>
<path d="M169.82,379.8 v1.4" stroke="#666" stroke-width="0.4"/>
<text x="177.65" y="385.20" font-size="4.3" text-anchor="middle" fill="#333">5</text>
<path d="M177.65,379.8 v1.4" stroke="#666" stroke-width="0.4"/>
<text x="185.48" y="385.20" font-size="4.3" text-anchor="middle" fill="#333">6</text>
<path d="M185.48,379.8 v1.4" stroke="#666" stroke-width="0.4"/>
<text x="193.31" y="385.20" font-size="4.3" text-anchor="middle" fill="#333">7</text>
<path d="M193.31,379.8 v1.4" stroke="#666" stroke-width="0.4"/>
<circle cx="138.50" cy="313.10" r="1.8" fill="#f6d2c2"/>
<circle cx="146.33" cy="313.10" r="2.35" fill="#c41f2e"/>
<circle cx="154.16" cy="313.10" r="1.6" fill="#a9d1e3"/>
<circle cx="161.99" cy="313.10" r="1.7" fill="#f6d4c7"/>
<circle cx="169.82" cy="313.10" r="1.7" fill="#b2d6e6"/>
<circle cx="177.65" cy="313.10" r="2.0" fill="#f1a485"/>
<circle cx="185.48" cy="313.10" r="1.4" fill="#5ca7c9"/>
<circle cx="193.31" cy="313.10" r="1.9" fill="#f6cdb9"/>
<circle cx="138.50" cy="327.72" r="2.3" fill="#f3a98b"/>
<circle cx="146.33" cy="327.72" r="2.35" fill="#be1d2b"/>
<circle cx="154.16" cy="327.72" r="2.1" fill="#b2d6e6"/>
<circle cx="161.99" cy="327.72" r="1.9" fill="#f5e9e5"/>
<circle cx="169.82" cy="327.72" r="2.55" fill="#279ac0"/>
<circle cx="177.65" cy="327.72" r="2.1" fill="#f6cab9"/>
<circle cx="185.48" cy="327.72" r="1.9" fill="#eef2f5"/>
<circle cx="193.31" cy="327.72" r="2.1" fill="#f6c9b4"/>
<circle cx="138.50" cy="342.34" r="1.4" fill="#4f9fc7"/>
<circle cx="146.33" cy="342.34" r="1.8" fill="#f6e9e5"/>
<circle cx="154.16" cy="342.34" r="1.9" fill="#f0937b"/>
<circle cx="161.99" cy="342.34" r="1.6" fill="#a3cde1"/>
<circle cx="169.82" cy="342.34" r="2.0" fill="#ee8b71"/>
<circle cx="177.65" cy="342.34" r="2.0" fill="#f09279"/>
<circle cx="185.48" cy="342.34" r="1.3" fill="#1890b8"/>
<circle cx="193.31" cy="342.34" r="2.0" fill="#ee8d71"/>
<circle cx="138.50" cy="356.96" r="0.5" fill="#f5f1f1"/>
<circle cx="146.33" cy="356.96" r="0.8" fill="#c3def0"/>
<circle cx="154.16" cy="356.96" r="0.9" fill="#f5d6ca"/>
<circle cx="161.99" cy="356.96" r="0.4" fill="#f4f4f4"/>
<circle cx="169.82" cy="356.96" r="0.5" fill="#f2eeee"/>
<circle cx="177.65" cy="356.96" r="2.3" fill="#8a1020"/>
<circle cx="193.31" cy="356.96" r="1.2" fill="#f4a991"/>
<circle cx="138.50" cy="371.58" r="2.1" fill="#c3def0"/>
<circle cx="146.33" cy="371.58" r="2.1" fill="#d6e7f1"/>
<circle cx="154.16" cy="371.58" r="2.3" fill="#e8614d"/>
<circle cx="161.99" cy="371.58" r="1.9" fill="#dde9f1"/>
<circle cx="169.82" cy="371.58" r="2.0" fill="#f6e5dd"/>
<circle cx="177.65" cy="371.58" r="1.9" fill="#f5ede9"/>
<circle cx="185.48" cy="371.58" r="2.0" fill="#abd2e5"/>
<circle cx="193.31" cy="371.58" r="2.5" fill="#c41f2e"/>
<text x="204.70" y="300.40" font-size="3.9" fill="#000">Average</text>
<text x="204.70" y="304.60" font-size="3.9" fill="#000">Expression</text>
<rect x="205.4" y="305.9" width="7.8" height="36.3" fill="url(#avg2)"/>
<text x="215.60" y="309.50" font-size="4.3" fill="#000">2</text>
<text x="215.60" y="317.68" font-size="4.3" fill="#000">1</text>
<text x="215.60" y="325.86" font-size="4.3" fill="#000">0</text>
<text x="215.00" y="334.04" font-size="4.3" fill="#000">−1</text>
<text x="215.00" y="342.22" font-size="4.3" fill="#000">−2</text>
<text x="204.20" y="347.80" font-size="3.9" fill="#000">Percent</text>
<text x="204.20" y="351.90" font-size="3.9" fill="#000">Expressed</text>
<circle cx="206.5" cy="356.10" r="0.45" fill="#000"/>
<text x="212.90" y="357.50" font-size="3.9" fill="#000">20</text>
<circle cx="206.5" cy="363.37" r="1.45" fill="#000"/>
<text x="212.90" y="364.77" font-size="3.9" fill="#000">40</text>
<circle cx="206.5" cy="370.64" r="1.8" fill="#000"/>
<text x="212.90" y="372.04" font-size="3.9" fill="#000">60</text>
<circle cx="206.5" cy="377.91" r="2.1" fill="#000"/>
<text x="212.90" y="379.31" font-size="3.9" fill="#000">80</text>
<circle cx="206.5" cy="385.18" r="2.5" fill="#000"/>
<text x="212.90" y="386.58" font-size="3.9" fill="#000">100</text>
<path d="M17.6,269.3 V261.0 M17.6,269.3 H26.1" stroke="#111" stroke-width="0.45" fill="none"/>
<path d="M16.700000000000003,261.0 L17.6,259.3 L18.5,261.0Z M26.1,268.40000000000003 L27.8,269.3 L26.1,270.2Z" fill="#111"/>
<text x="18.60" y="273.50" font-size="2.3" fill="#333">UMAP1</text>
<text x="0.00" y="0.00" font-size="2.3" text-anchor="middle" fill="#333" transform="translate(15.400000000000002,264.8) rotate(-90)">UMAP2</text>
<path d="M18.9,379.7 V371.4 M18.9,379.7 H27.4" stroke="#111" stroke-width="0.45" fill="none"/>
<path d="M18.0,371.4 L18.9,369.7 L19.799999999999997,371.4Z M27.4,378.8 L29.099999999999998,379.7 L27.4,380.59999999999997Z" fill="#111"/>
<text x="19.90" y="383.90" font-size="2.3" fill="#333">UMAP1</text>
<text x="0.00" y="0.00" font-size="2.3" text-anchor="middle" fill="#333" transform="translate(16.7,375.2) rotate(-90)">UMAP2</text>
<defs><filter id="roughA" x="-5%" y="-5%" width="110%" height="110%"><feTurbulence type="fractalNoise" baseFrequency="1.1" numOctaves="2" seed="5" result="n"/><feDisplacementMap in="SourceGraphic" in2="n" scale="1.6" xChannelSelector="R" yChannelSelector="G" result="d"/><feTurbulence type="fractalNoise" baseFrequency="1.6" numOctaves="1" seed="9" result="n2"/><feColorMatrix in="n2" type="matrix" values="0 0 0 0 1  0 0 0 0 1  0 0 0 0 1  0 0 0 0.6 -0.25" result="w0"/><feGaussianBlur in="w0" stdDeviation="0.25" result="w"/><feComposite in="w" in2="d" operator="in" result="wm"/><feMerge><feMergeNode in="d"/><feMergeNode in="wm"/></feMerge></filter></defs><defs><filter id="rough2" x="-5%" y="-5%" width="110%" height="110%"><feTurbulence type="fractalNoise" baseFrequency="0.9" numOctaves="2" seed="12" result="n"/><feDisplacementMap in="SourceGraphic" in2="n" scale="1.8" xChannelSelector="R" yChannelSelector="G"/></filter><filter id="roughE" x="-5%" y="-5%" width="110%" height="110%"><feMorphology in="SourceGraphic" operator="dilate" radius="0.5" result="m"/><feTurbulence type="fractalNoise" baseFrequency="0.9" numOctaves="2" seed="12" result="n"/><feDisplacementMap in="m" in2="n" scale="2.2" xChannelSelector="R" yChannelSelector="G"/></filter></defs><g id="pA" filter="url(#roughA)"><path d="M36.00,37.60 L41.00,38.60 L44.50,37.60 L43.50,40.50 L41.50,44.00 L40.40,46.50 L39.00,43.50 L37.00,40.00Z" fill="#6979b9"/>
<path d="M43.00,38.60 L48.50,33.00 L50.50,30.50 L51.50,31.50 L49.50,34.00 L44.50,39.50Z" fill="#6979b9"/>
<ellipse cx="49.5" cy="32" rx="1.8" ry="1.4" fill="#6979b9"/>
<ellipse cx="30.5" cy="42.5" rx="0.6" ry="0.5" fill="#6979b9" fill-opacity="0.7"/>
<path d="M77.00,32.00 C76.83,31.32 77.83,29.50 79.00,28.50 C80.17,27.50 82.08,26.55 84.00,26.00 C85.92,25.45 89.67,24.78 90.50,25.20 C91.33,25.62 89.92,27.45 89.00,28.50 C88.08,29.55 86.50,30.82 85.00,31.50 C83.50,32.18 81.33,32.52 80.00,32.60 C78.67,32.68 77.17,32.68 77.00,32.00Z" fill="#f7b9b1"/>
<path d="M63.50,33.00 C64.17,31.92 65.75,30.75 67.00,30.50 C68.25,30.25 70.17,30.67 71.00,31.50 C71.83,32.33 71.50,34.42 72.00,35.50 C72.50,36.58 73.08,37.33 74.00,38.00 C74.92,38.67 76.83,38.50 77.50,39.50 C78.17,40.50 78.42,42.67 78.00,44.00 C77.58,45.33 76.25,47.08 75.00,47.50 C73.75,47.92 71.75,46.25 70.50,46.50 C69.25,46.75 68.08,47.92 67.50,49.00 C66.92,50.08 67.58,51.75 67.00,53.00 C66.42,54.25 65.17,55.83 64.00,56.50 C62.83,57.17 61.25,57.42 60.00,57.00 C58.75,56.58 57.25,55.50 56.50,54.00 C55.75,52.50 55.25,49.92 55.50,48.00 C55.75,46.08 57.00,43.83 58.00,42.50 C59.00,41.17 60.67,40.92 61.50,40.00 C62.33,39.08 62.67,38.17 63.00,37.00 C63.33,35.83 62.83,34.08 63.50,33.00Z" fill="#a9b1c2"/>
<path d="M53.50,58.00 C54.08,56.58 56.50,56.08 58.00,56.00 C59.50,55.92 61.67,56.42 62.50,57.50 C63.33,58.58 63.50,61.17 63.00,62.50 C62.50,63.83 60.92,65.17 59.50,65.50 C58.08,65.83 55.50,65.75 54.50,64.50 C53.50,63.25 52.92,59.42 53.50,58.00Z" fill="#a9b1c2"/>
<ellipse cx="66" cy="45.5" rx="1.6" ry="2.4" fill="#ffffff" fill-opacity="0.55"/>
<path d="M81.50,55.00 C81.83,54.30 83.32,53.22 84.00,53.30 C84.68,53.38 85.60,54.72 85.60,55.50 C85.60,56.28 84.60,57.67 84.00,58.00 C83.40,58.33 82.42,58.00 82.00,57.50 C81.58,57.00 81.17,55.70 81.50,55.00Z" fill="#a9b1c2"/>
<path d="M36.00,55.00 C37.08,54.00 40.08,53.20 42.00,53.00 C43.92,52.80 46.33,52.97 47.50,53.80 C48.67,54.63 49.17,56.55 49.00,58.00 C48.83,59.45 47.58,61.25 46.50,62.50 C45.42,63.75 43.83,65.25 42.50,65.50 C41.17,65.75 40.00,64.33 38.50,64.00 C37.00,63.67 34.50,63.92 33.50,63.50 C32.50,63.08 32.17,62.25 32.50,61.50 C32.83,60.75 34.92,60.08 35.50,59.00 C36.08,57.92 34.92,56.00 36.00,55.00Z" fill="#e9a2b6"/>
<path d="M27.50,60.00 C28.17,59.00 29.92,58.83 31.00,59.00 C32.08,59.17 33.58,60.00 34.00,61.00 C34.42,62.00 34.17,63.93 33.50,65.00 C32.83,66.07 31.08,67.40 30.00,67.40 C28.92,67.40 27.42,66.23 27.00,65.00 C26.58,63.77 26.83,61.00 27.50,60.00Z" fill="#9fb8bb" fill-opacity="0.8"/>
<path d="M38.00,58.00 C37.83,57.25 40.00,56.42 41.00,56.50 C42.00,56.58 43.83,57.75 44.00,58.50 C44.17,59.25 43.00,61.08 42.00,61.00 C41.00,60.92 38.17,58.75 38.00,58.00Z" fill="#d77a98" fill-opacity="0.6"/>
<path d="M52.00,55.50 C52.17,54.75 55.08,53.45 57.00,53.00 C58.92,52.55 62.58,52.22 63.50,52.80 C64.42,53.38 63.75,55.72 62.50,56.50 C61.25,57.28 57.75,57.67 56.00,57.50 C54.25,57.33 51.83,56.25 52.00,55.50Z" fill="#4ea2a4"/>
<path d="M68.50,62.00 C68.67,61.08 70.58,59.47 72.00,59.00 C73.42,58.53 75.92,58.70 77.00,59.20 C78.08,59.70 78.67,61.15 78.50,62.00 C78.33,62.85 77.25,63.88 76.00,64.30 C74.75,64.72 72.25,64.88 71.00,64.50 C69.75,64.12 68.33,62.92 68.50,62.00Z" fill="#1b8a7b"/>
<ellipse cx="77.8" cy="65.5" rx="1.2" ry="0.8" fill="#3bb6e0"/>
<path d="M91.00,51.20 C90.58,50.62 93.00,47.62 93.50,46.00 C94.00,44.38 93.25,42.57 94.00,41.50 C94.75,40.43 96.33,39.88 98.00,39.60 C99.67,39.32 102.17,39.40 104.00,39.80 C105.83,40.20 107.35,40.88 109.00,42.00 C110.65,43.12 114.07,45.42 113.90,46.50 C113.73,47.58 109.98,48.00 108.00,48.50 C106.02,49.00 104.00,49.33 102.00,49.50 C100.00,49.67 97.83,49.22 96.00,49.50 C94.17,49.78 91.42,51.78 91.00,51.20Z" fill="#41b1a1"/>
<path d="M97.00,37.50 C97.17,36.83 99.00,35.88 100.00,35.80 C101.00,35.72 101.83,36.38 103.00,37.00 C104.17,37.62 106.83,38.92 107.00,39.50 C107.17,40.08 105.33,40.45 104.00,40.50 C102.67,40.55 100.17,40.30 99.00,39.80 C97.83,39.30 96.83,38.17 97.00,37.50Z" fill="#f7b9b1" fill-opacity="0.9"/>
<path d="M120.50,59.50 C120.17,58.22 122.58,54.75 124.00,53.50 C125.42,52.25 127.33,52.00 129.00,52.00 C130.67,52.00 133.58,52.50 134.00,53.50 C134.42,54.50 132.83,56.72 131.50,58.00 C130.17,59.28 127.83,60.95 126.00,61.20 C124.17,61.45 120.83,60.78 120.50,59.50Z" fill="#f08171"/>
<path d="M91.50,62.00 C91.92,60.77 93.92,59.93 96.00,59.60 C98.08,59.27 101.67,59.97 104.00,60.00 C106.33,60.03 108.50,59.38 110.00,59.80 C111.50,60.22 112.08,61.47 113.00,62.50 C113.92,63.53 114.75,64.58 115.50,66.00 C116.25,67.42 117.42,69.33 117.50,71.00 C117.58,72.67 115.83,74.50 116.00,76.00 C116.17,77.50 118.33,78.75 118.50,80.00 C118.67,81.25 117.92,83.17 117.00,83.50 C116.08,83.83 114.17,82.92 113.00,82.00 C111.83,81.08 111.00,78.33 110.00,78.00 C109.00,77.67 108.00,78.58 107.00,80.00 C106.00,81.42 105.00,85.53 104.00,86.50 C103.00,87.47 101.67,86.88 101.00,85.80 C100.33,84.72 100.67,81.38 100.00,80.00 C99.33,78.62 98.00,78.17 97.00,77.50 C96.00,76.83 94.83,77.08 94.00,76.00 C93.17,74.92 92.08,72.50 92.00,71.00 C91.92,69.50 93.58,68.50 93.50,67.00 C93.42,65.50 91.08,63.23 91.50,62.00Z" fill="#5b9aa9"/>
<ellipse cx="104.5" cy="71.5" rx="2.2" ry="3.2" fill="#ffffff" fill-opacity="0.45"/>
<ellipse cx="96.5" cy="70.5" rx="1.2" ry="2.0" fill="#ffffff" fill-opacity="0.4"/>
<path d="M122.00,80.50 C122.33,79.08 124.08,76.83 125.50,75.50 C126.92,74.17 128.67,73.28 130.50,72.50 C132.33,71.72 134.58,71.02 136.50,70.80 C138.42,70.58 141.17,70.42 142.00,71.20 C142.83,71.98 142.33,74.20 141.50,75.50 C140.67,76.80 138.58,77.92 137.00,79.00 C135.42,80.08 133.25,80.92 132.00,82.00 C130.75,83.08 130.08,84.17 129.50,85.50 C128.92,86.83 129.08,88.58 128.50,90.00 C127.92,91.42 127.08,92.75 126.00,94.00 C124.92,95.25 123.33,96.58 122.00,97.50 C120.67,98.42 118.83,99.58 118.00,99.50 C117.17,99.42 116.67,98.08 117.00,97.00 C117.33,95.92 118.92,94.42 120.00,93.00 C121.08,91.58 122.92,90.00 123.50,88.50 C124.08,87.00 123.75,85.33 123.50,84.00 C123.25,82.67 121.67,81.92 122.00,80.50Z" fill="#1b8a7b"/>
<path d="M134.00,72.00 C134.33,71.08 137.08,70.42 138.50,70.30 C139.92,70.18 142.05,70.52 142.50,71.30 C142.95,72.08 142.20,74.25 141.20,75.00 C140.20,75.75 137.70,76.30 136.50,75.80 C135.30,75.30 133.67,72.92 134.00,72.00Z" fill="#3bb6e0"/>
<path d="M116.50,97.00 C116.83,95.87 118.75,94.67 120.00,94.00 C121.25,93.33 122.58,93.08 124.00,93.00 C125.42,92.92 128.00,92.75 128.50,93.50 C129.00,94.25 128.08,96.33 127.00,97.50 C125.92,98.67 123.50,99.95 122.00,100.50 C120.50,101.05 118.92,101.38 118.00,100.80 C117.08,100.22 116.17,98.13 116.50,97.00Z" fill="#2a9a92"/>
<ellipse cx="13" cy="99" rx="4.6" ry="6.0" fill="#2c4a94"/>
<ellipse cx="14.2" cy="69.2" rx="1.0" ry="1.5" fill="#2c4a94" transform="rotate(20 14.2 69.2)"/>
<ellipse cx="23" cy="76.2" rx="1.6" ry="1.2" fill="#2c4a94"/>
<ellipse cx="26.5" cy="95" rx="1.7" ry="2.3" fill="#2c4a94"/>
<path d="M17,85 L25.5,92.7 M17.7,95.8 L24.7,95.5 M13.8,86 L20,89" stroke="#2c4a94" stroke-width="0.5" fill="none"/>
<path d="M35.80,80.50 C36.05,79.30 37.80,78.88 39.00,78.80 C40.20,78.72 41.58,79.22 43.00,80.00 C44.42,80.78 46.43,82.08 47.50,83.50 C48.57,84.92 49.57,87.25 49.40,88.50 C49.23,89.75 47.82,90.75 46.50,91.00 C45.18,91.25 43.00,90.83 41.50,90.00 C40.00,89.17 38.45,87.58 37.50,86.00 C36.55,84.42 35.55,81.70 35.80,80.50Z" fill="#1b8a7b"/>
<path d="M36.00,77.50 C36.25,76.75 37.67,76.30 38.50,76.30 C39.33,76.30 40.75,76.80 41.00,77.50 C41.25,78.20 40.67,79.95 40.00,80.50 C39.33,81.05 37.67,81.30 37.00,80.80 C36.33,80.30 35.75,78.25 36.00,77.50Z" fill="#3bb6e0"/>
<path d="M46.30,90.50 C46.55,89.33 49.22,88.50 51.00,88.00 C52.78,87.50 55.50,87.17 57.00,87.50 C58.50,87.83 60.17,88.83 60.00,90.00 C59.83,91.17 57.75,93.67 56.00,94.50 C54.25,95.33 51.12,95.67 49.50,95.00 C47.88,94.33 46.05,91.67 46.30,90.50Z" fill="#f08171" fill-opacity="0.85"/>
<path d="M50.20,86.00 C49.78,84.50 50.62,81.83 51.50,80.00 C52.38,78.17 53.92,76.45 55.50,75.00 C57.08,73.55 59.17,72.10 61.00,71.30 C62.83,70.50 65.08,70.00 66.50,70.20 C67.92,70.40 69.42,71.28 69.50,72.50 C69.58,73.72 68.08,75.83 67.00,77.50 C65.92,79.17 64.42,80.92 63.00,82.50 C61.58,84.08 60.00,85.92 58.50,87.00 C57.00,88.08 55.38,89.17 54.00,89.00 C52.62,88.83 50.62,87.50 50.20,86.00Z" fill="#2f86c6"/>
<path d="M60.00,88.50 C60.17,86.75 62.33,84.50 64.00,83.00 C65.67,81.50 67.92,80.20 70.00,79.50 C72.08,78.80 74.67,78.55 76.50,78.80 C78.33,79.05 80.42,79.63 81.00,81.00 C81.58,82.37 81.00,85.17 80.00,87.00 C79.00,88.83 76.92,90.67 75.00,92.00 C73.08,93.33 70.50,94.75 68.50,95.00 C66.50,95.25 64.42,94.58 63.00,93.50 C61.58,92.42 59.83,90.25 60.00,88.50Z" fill="#2a7b8f"/>
<path d="M57.60,81.00 C58.02,79.17 60.43,78.25 62.00,78.00 C63.57,77.75 65.83,78.33 67.00,79.50 C68.17,80.67 69.33,83.17 69.00,85.00 C68.67,86.83 66.58,89.83 65.00,90.50 C63.42,91.17 60.73,90.58 59.50,89.00 C58.27,87.42 57.18,82.83 57.60,81.00Z" fill="#8a4a72" fill-opacity="0.75"/>
<path d="M35.50,106.00 C35.67,104.67 36.75,103.55 38.00,103.00 C39.25,102.45 41.62,102.28 43.00,102.70 C44.38,103.12 45.88,104.20 46.30,105.50 C46.72,106.80 46.38,109.30 45.50,110.50 C44.62,111.70 42.42,112.62 41.00,112.70 C39.58,112.78 37.92,112.12 37.00,111.00 C36.08,109.88 35.33,107.33 35.50,106.00Z" fill="#41b1a1"/>
<path d="M27.80,115.50 C27.80,114.52 29.10,113.33 30.00,113.00 C30.90,112.67 32.70,112.75 33.20,113.50 C33.70,114.25 33.53,116.60 33.00,117.50 C32.47,118.40 30.87,119.23 30.00,118.90 C29.13,118.57 27.80,116.48 27.80,115.50Z" fill="#1b8a7b"/>
<path d="M71.60,97.50 C71.93,95.92 74.43,94.67 76.00,94.00 C77.57,93.33 79.42,94.00 81.00,93.50 C82.58,93.00 84.17,91.17 85.50,91.00 C86.83,90.83 87.92,91.75 89.00,92.50 C90.08,93.25 90.53,94.67 92.00,95.50 C93.47,96.33 97.13,96.42 97.80,97.50 C98.47,98.58 96.80,100.50 96.00,102.00 C95.20,103.50 94.33,105.17 93.00,106.50 C91.67,107.83 90.00,109.33 88.00,110.00 C86.00,110.67 82.83,111.00 81.00,110.50 C79.17,110.00 78.17,108.17 77.00,107.00 C75.83,105.83 74.90,105.08 74.00,103.50 C73.10,101.92 71.27,99.08 71.60,97.50Z" fill="#d8577b"/>
<ellipse cx="102.5" cy="101.8" rx="1.3" ry="3.1" fill="#2a9a9a"/>
<path d="M105.40,101.00 C105.57,99.83 106.85,98.25 108.00,98.00 C109.15,97.75 111.80,98.50 112.30,99.50 C112.80,100.50 111.88,103.08 111.00,104.00 C110.12,104.92 107.93,105.50 107.00,105.00 C106.07,104.50 105.23,102.17 105.40,101.00Z" fill="#d8577b"/>
<path d="M112.30,110.00 C112.63,109.13 114.55,107.63 116.00,107.30 C117.45,106.97 119.83,107.47 121.00,108.00 C122.17,108.53 123.50,109.72 123.00,110.50 C122.50,111.28 119.50,112.37 118.00,112.70 C116.50,113.03 114.95,112.95 114.00,112.50 C113.05,112.05 111.97,110.87 112.30,110.00Z" fill="#d8577b"/>
<path d="M135.50,90.50 C135.75,89.72 137.72,88.97 139.00,88.80 C140.28,88.63 142.70,88.88 143.20,89.50 C143.70,90.12 142.95,91.83 142.00,92.50 C141.05,93.17 138.58,93.83 137.50,93.50 C136.42,93.17 135.25,91.28 135.50,90.50Z" fill="#d8577b"/>
<path d="M130.80,99.50 C130.47,98.85 132.83,97.55 134.00,97.30 C135.17,97.05 137.47,97.35 137.80,98.00 C138.13,98.65 137.17,100.95 136.00,101.20 C134.83,101.45 131.13,100.15 130.80,99.50Z" fill="#d8577b"/>
<path d="M131.60,103.00 C131.85,102.28 133.60,101.28 135.00,101.20 C136.40,101.12 139.42,101.73 140.00,102.50 C140.58,103.27 139.58,105.30 138.50,105.80 C137.42,106.30 134.65,105.97 133.50,105.50 C132.35,105.03 131.35,103.72 131.60,103.00Z" fill="#f0907c"/>
<path d="M110.40,110.00 C109.73,109.23 112.40,108.28 114.00,108.00 C115.60,107.72 118.53,107.97 120.00,108.30 C121.47,108.63 123.13,109.28 122.80,110.00 C122.47,110.72 120.07,112.60 118.00,112.60 C115.93,112.60 111.07,110.77 110.40,110.00Z" fill="#d8577b" fill-opacity="0.9"/>
<path d="M57.00,111.00 C57.92,109.58 60.17,109.58 62.00,109.50 C63.83,109.42 65.83,109.58 68.00,110.50 C70.17,111.42 74.33,113.75 75.00,115.00 C75.67,116.25 72.67,116.67 72.00,118.00 C71.33,119.33 71.83,121.33 71.00,123.00 C70.17,124.67 68.50,127.08 67.00,128.00 C65.50,128.92 63.50,129.00 62.00,128.50 C60.50,128.00 58.92,126.75 58.00,125.00 C57.08,123.25 56.67,120.33 56.50,118.00 C56.33,115.67 56.08,112.42 57.00,111.00Z" fill="#8a1a45"/>
<path d="M49.60,113.00 C50.10,111.67 51.60,110.42 53.00,110.00 C54.40,109.58 56.83,109.67 58.00,110.50 C59.17,111.33 59.75,113.25 60.00,115.00 C60.25,116.75 60.00,119.50 59.50,121.00 C59.00,122.50 58.17,123.67 57.00,124.00 C55.83,124.33 53.67,124.00 52.50,123.00 C51.33,122.00 50.48,119.67 50.00,118.00 C49.52,116.33 49.10,114.33 49.60,113.00Z" fill="#2f7fae"/>
<path d="M55.00,112.00 C55.50,110.50 58.00,110.33 59.00,111.00 C60.00,111.67 61.00,114.17 61.00,116.00 C61.00,117.83 59.83,121.33 59.00,122.00 C58.17,122.67 56.67,121.67 56.00,120.00 C55.33,118.33 54.50,113.50 55.00,112.00Z" fill="#3a6f8e" fill-opacity="0.7"/>
<g fill="none" stroke-width="1.3"><path d="M34,133 C36,127 41,125.5 45,128 C47,132 44,138 40,141.5 C37,142.5 34,139 34,133Z" stroke="#4a7f98"/><path d="M43,130 C46,125 51,124.5 54,127 C55,131 52,136 48,139 C45,139.5 43,135 43,130Z" stroke="#8a1a45"/></g>
<path d="M35.00,131.00 C35.50,128.92 38.42,127.25 40.00,127.00 C41.58,126.75 44.17,127.83 44.50,129.50 C44.83,131.17 43.25,135.33 42.00,137.00 C40.75,138.67 38.17,140.50 37.00,139.50 C35.83,138.50 34.50,133.08 35.00,131.00Z" fill="#7a5a80" fill-opacity="0.55"/>
<path d="M44.50,130.00 C44.83,128.08 47.50,126.83 49.00,126.50 C50.50,126.17 53.17,126.58 53.50,128.00 C53.83,129.42 52.08,133.33 51.00,135.00 C49.92,136.67 48.08,138.83 47.00,138.00 C45.92,137.17 44.17,131.92 44.50,130.00Z" fill="#8a2a55" fill-opacity="0.55"/>
<path d="M44.00,134.00 C44.33,132.83 46.67,132.00 48.00,132.00 C49.33,132.00 51.67,132.92 52.00,134.00 C52.33,135.08 51.00,137.67 50.00,138.50 C49.00,139.33 47.00,139.75 46.00,139.00 C45.00,138.25 43.67,135.17 44.00,134.00Z" fill="#8a1a45" fill-opacity="0.6"/>
<path d="M37.00,140.00 C37.42,139.30 40.17,138.53 41.00,139.00 C41.83,139.47 42.42,142.10 42.00,142.80 C41.58,143.50 39.33,143.67 38.50,143.20 C37.67,142.73 36.58,140.70 37.00,140.00Z" fill="#8a1a45" fill-opacity="0.9"/>
<path d="M84.50,116.50 C84.83,115.42 88.08,114.20 90.00,113.50 C91.92,112.80 94.17,112.67 96.00,112.30 C97.83,111.93 99.33,111.63 101.00,111.30 C102.67,110.97 104.85,109.85 106.00,110.30 C107.15,110.75 107.63,112.05 107.90,114.00 C108.17,115.95 107.82,119.33 107.60,122.00 C107.38,124.67 107.12,128.00 106.60,130.00 C106.08,132.00 105.60,133.37 104.50,134.00 C103.40,134.63 101.42,134.22 100.00,133.80 C98.58,133.38 97.33,132.30 96.00,131.50 C94.67,130.70 92.92,130.25 92.00,129.00 C91.08,127.75 91.17,125.50 90.50,124.00 C89.83,122.50 89.00,121.25 88.00,120.00 C87.00,118.75 84.17,117.58 84.50,116.50Z" fill="#8a1a45"/>
<path d="M91.50,117.50 C92.33,115.47 95.92,115.38 98.00,115.30 C100.08,115.22 102.80,115.55 104.00,117.00 C105.20,118.45 105.28,121.83 105.20,124.00 C105.12,126.17 104.87,128.92 103.50,130.00 C102.13,131.08 98.75,130.92 97.00,130.50 C95.25,130.08 93.92,129.67 93.00,127.50 C92.08,125.33 90.67,119.53 91.50,117.50Z" fill="#2c7a90"/>
<path d="M92.00,127.50 C92.50,126.80 95.50,127.38 97.00,127.80 C98.50,128.22 99.83,129.47 101.00,130.00 C102.17,130.53 103.53,130.27 104.00,131.00 C104.47,131.73 104.63,133.77 103.80,134.40 C102.97,135.03 100.63,135.20 99.00,134.80 C97.37,134.40 95.17,133.22 94.00,132.00 C92.83,130.78 91.50,128.20 92.00,127.50Z" fill="#2f88c8"/>
<path d="M118.10,120.00 C118.77,119.08 121.18,118.25 123.00,118.00 C124.82,117.75 127.50,118.00 129.00,118.50 C130.50,119.00 131.67,120.08 132.00,121.00 C132.33,121.92 132.17,123.50 131.00,124.00 C129.83,124.50 127.00,124.08 125.00,124.00 C123.00,123.92 120.15,124.17 119.00,123.50 C117.85,122.83 117.43,120.92 118.10,120.00Z" fill="#b77191"/>
<path d="M119.00,123.00 C119.67,122.08 121.83,122.50 124.00,122.50 C126.17,122.50 130.75,122.17 132.00,123.00 C133.25,123.83 132.50,126.53 131.50,127.50 C130.50,128.47 127.92,128.72 126.00,128.80 C124.08,128.88 121.17,128.97 120.00,128.00 C118.83,127.03 118.33,123.92 119.00,123.00Z" fill="#2a7088"/>
<path d="M80.50,140.00 C80.75,138.17 81.92,136.97 83.00,136.00 C84.08,135.03 85.67,134.28 87.00,134.20 C88.33,134.12 89.83,135.03 91.00,135.50 C92.17,135.97 93.18,136.08 94.00,137.00 C94.82,137.92 95.73,139.33 95.90,141.00 C96.07,142.67 95.65,145.33 95.00,147.00 C94.35,148.67 93.17,149.92 92.00,151.00 C90.83,152.08 89.33,153.33 88.00,153.50 C86.67,153.67 85.08,153.08 84.00,152.00 C82.92,150.92 82.08,149.00 81.50,147.00 C80.92,145.00 80.25,141.83 80.50,140.00Z" fill="#b77191"/>
<path d="M102.00,140.00 C102.17,138.58 103.67,137.33 105.00,136.50 C106.33,135.67 108.33,135.17 110.00,135.00 C111.67,134.83 113.52,135.00 115.00,135.50 C116.48,136.00 118.40,136.75 118.90,138.00 C119.40,139.25 119.15,141.92 118.00,143.00 C116.85,144.08 114.33,144.17 112.00,144.50 C109.67,144.83 105.67,145.75 104.00,145.00 C102.33,144.25 101.83,141.42 102.00,140.00Z" fill="#b77191"/>
<path d="M103.00,144.50 C103.67,143.50 106.17,143.67 108.00,143.50 C109.83,143.33 112.25,143.42 114.00,143.50 C115.75,143.58 117.83,143.08 118.50,144.00 C119.17,144.92 119.25,147.93 118.00,149.00 C116.75,150.07 113.33,150.32 111.00,150.40 C108.67,150.48 105.33,150.48 104.00,149.50 C102.67,148.52 102.33,145.50 103.00,144.50Z" fill="#2a7088"/>
<path d="M118,136.5 L124.3,128" stroke="#c090a8" stroke-width="0.6"/>
<path d="M62.00,142.00 C62.50,141.25 64.72,141.17 66.00,140.50 C67.28,139.83 68.78,138.17 69.70,138.00 C70.62,137.83 70.87,138.75 71.50,139.50 C72.13,140.25 73.42,141.32 73.50,142.50 C73.58,143.68 73.25,145.97 72.00,146.60 C70.75,147.23 67.50,146.57 66.00,146.30 C64.50,146.03 63.67,145.72 63.00,145.00 C62.33,144.28 61.50,142.75 62.00,142.00Z" fill="#1f5f79"/>
<path d="M55.00,154.50 C55.50,153.53 59.00,153.50 61.00,153.20 C63.00,152.90 65.42,152.65 67.00,152.70 C68.58,152.75 70.17,152.62 70.50,153.50 C70.83,154.38 69.92,156.97 69.00,158.00 C68.08,159.03 66.83,159.53 65.00,159.70 C63.17,159.87 59.67,159.87 58.00,159.00 C56.33,158.13 54.50,155.47 55.00,154.50Z" fill="#1f5f79"/>
<path d="M110.40,109.00 C110.73,108.33 112.90,107.67 114.00,107.50 C115.10,107.33 116.67,107.42 117.00,108.00 C117.33,108.58 116.83,110.42 116.00,111.00 C115.17,111.58 112.93,111.83 112.00,111.50 C111.07,111.17 110.07,109.67 110.40,109.00Z" fill="#d8577b"/>
<ellipse cx="76.6" cy="118.6" rx="1.3" ry="1.04" fill="#d8577b"/>
<ellipse cx="74.6" cy="124.2" rx="0.9" ry="0.7200000000000001" fill="#1b8a7b"/>
<ellipse cx="86.6" cy="121" rx="1.2" ry="0.96" fill="#f0907c"/>
<ellipse cx="139.5" cy="114" rx="1.4" ry="1.1199999999999999" fill="#41b1a1"/>
<ellipse cx="138" cy="131" rx="1.6" ry="1.2800000000000002" fill="#41b1a1"/>
<ellipse cx="140.5" cy="130" rx="1.0" ry="0.8" fill="#f0a090"/>
<ellipse cx="131.6" cy="139" rx="1.0" ry="0.8" fill="#f08171"/>
<ellipse cx="30.5" cy="113" rx="0.8" ry="0.6400000000000001" fill="#1b8a7b"/>
<ellipse cx="88.5" cy="120.4" rx="0.8" ry="0.6400000000000001" fill="#f0907c"/>
<ellipse cx="100" cy="124" rx="0.6" ry="0.48" fill="#3a8a9a"/>
</g><g id="pAlab" fill-opacity="0.9">
<text x="30.1" y="30.1" font-size="4.5" fill="#6979b9">Wheeler2020</text>
<text x="78.5" y="25.0" font-size="4.5" fill="#f7b9b1">Morabito2021</text>
<text x="71.6" y="40.4" font-size="4.5" fill="#a9b1c2">Zhou2020</text>
<text x="17.0" y="52.8" font-size="4.5" fill="#e9a2b6">Chancellor2021</text>
<text x="95.5" y="56.3" font-size="4.5" fill="#41b1a1">Smith2022</text>
<text x="110.8" y="66.6" font-size="4.5" fill="#f08171">Mathys2019</text>
<text x="50.8" y="70.5" font-size="4.5" fill="#2b7fc1">Absenta2021</text>
<text x="2.3" y="85.0" font-size="4.5" fill="#2c4a94">Smajic2022</text>
<text x="91.6" y="90.4" font-size="4.5" fill="#5b9aa9">Garcia2022</text>
<text x="128.5" y="85.0" font-size="4.5" fill="#3bb6e0">Agarwal2020</text>
<text x="31.6" y="98.1" font-size="4.5" fill="#1b8a7b">Leng2021</text>
<text x="58.1" y="134.3" font-size="4.5" fill="#8a1a45">Gerrits2021</text>
<text x="43.2" y="150.9" font-size="4.5" fill="#1f5f79">Franjic2021</text>
<text x="81.2" y="160.5" font-size="4.5" fill="#b77191">Lau2020</text>
<text x="77" y="111.2" font-size="4.5" fill="#d8577b">Ayhan2021</text></g><g id="pB"><defs>
<pattern id="patB" width="11" height="11" patternUnits="userSpaceOnUse"><rect x="0" y="0" width="1" height="1" fill="#5074b4"/><rect x="1" y="0" width="1" height="1" fill="#72b8b6"/><rect x="2" y="0" width="1" height="1" fill="#a45a86"/><rect x="3" y="0" width="1" height="1" fill="#7a86b4"/><rect x="4" y="0" width="1" height="1" fill="#72b8b6"/><rect x="5" y="0" width="1" height="1" fill="#7a86b4"/><rect x="6" y="0" width="1" height="1" fill="#45a6a8"/><rect x="7" y="0" width="1" height="1" fill="#c0809c"/><rect x="8" y="0" width="1" height="1" fill="#7a86b4"/><rect x="9" y="0" width="1" height="1" fill="#5074b4"/><rect x="10" y="0" width="1" height="1" fill="#7a86b4"/><rect x="0" y="1" width="1" height="1" fill="#45a6a8"/><rect x="1" y="1" width="1" height="1" fill="#c0809c"/><rect x="2" y="1" width="1" height="1" fill="#45a6a8"/><rect x="3" y="1" width="1" height="1" fill="#5074b4"/><rect x="4" y="1" width="1" height="1" fill="#5074b4"/><rect x="5" y="1" width="1" height="1" fill="#45a6a8"/><rect x="6" y="1" width="1" height="1" fill="#45a6a8"/><rect x="7" y="1" width="1" height="1" fill="#933f78"/><rect x="8" y="1" width="1" height="1" fill="#7a86b4"/><rect x="9" y="1" width="1" height="1" fill="#a45a86"/><rect x="10" y="1" width="1" height="1" fill="#45a6a8"/><rect x="0" y="2" width="1" height="1" fill="#a45a86"/><rect x="1" y="2" width="1" height="1" fill="#45a6a8"/><rect x="2" y="2" width="1" height="1" fill="#5074b4"/><rect x="3" y="2" width="1" height="1" fill="#45a6a8"/><rect x="4" y="2" width="1" height="1" fill="#45a6a8"/><rect x="5" y="2" width="1" height="1" fill="#a45a86"/><rect x="6" y="2" width="1" height="1" fill="#45a6a8"/><rect x="7" y="2" width="1" height="1" fill="#45a6a8"/><rect x="8" y="2" width="1" height="1" fill="#d4a9b7"/><rect x="9" y="2" width="1" height="1" fill="#a45a86"/><rect x="10" y="2" width="1" height="1" fill="#933f78"/><rect x="0" y="3" width="1" height="1" fill="#7a86b4"/><rect x="1" y="3" width="1" height="1" fill="#5074b4"/><rect x="2" y="3" width="1" height="1" fill="#72b8b6"/><rect x="3" y="3" width="1" height="1" fill="#45a6a8"/><rect x="4" y="3" width="1" height="1" fill="#7a86b4"/><rect x="5" y="3" width="1" height="1" fill="#72b8b6"/><rect x="6" y="3" width="1" height="1" fill="#7a86b4"/><rect x="7" y="3" width="1" height="1" fill="#7a86b4"/><rect x="8" y="3" width="1" height="1" fill="#933f78"/><rect x="9" y="3" width="1" height="1" fill="#933f78"/><rect x="10" y="3" width="1" height="1" fill="#45a6a8"/><rect x="0" y="4" width="1" height="1" fill="#45a6a8"/><rect x="1" y="4" width="1" height="1" fill="#45a6a8"/><rect x="2" y="4" width="1" height="1" fill="#933f78"/><rect x="3" y="4" width="1" height="1" fill="#5074b4"/><rect x="4" y="4" width="1" height="1" fill="#45a6a8"/><rect x="5" y="4" width="1" height="1" fill="#72b8b6"/><rect x="6" y="4" width="1" height="1" fill="#933f78"/><rect x="7" y="4" width="1" height="1" fill="#933f78"/><rect x="8" y="4" width="1" height="1" fill="#a45a86"/><rect x="9" y="4" width="1" height="1" fill="#c0809c"/><rect x="10" y="4" width="1" height="1" fill="#933f78"/><rect x="0" y="5" width="1" height="1" fill="#c0809c"/><rect x="1" y="5" width="1" height="1" fill="#72b8b6"/><rect x="2" y="5" width="1" height="1" fill="#45a6a8"/><rect x="3" y="5" width="1" height="1" fill="#d4a9b7"/><rect x="4" y="5" width="1" height="1" fill="#45a6a8"/><rect x="5" y="5" width="1" height="1" fill="#72b8b6"/><rect x="6" y="5" width="1" height="1" fill="#a45a86"/><rect x="7" y="5" width="1" height="1" fill="#45a6a8"/><rect x="8" y="5" width="1" height="1" fill="#a45a86"/><rect x="9" y="5" width="1" height="1" fill="#933f78"/><rect x="10" y="5" width="1" height="1" fill="#5074b4"/><rect x="0" y="6" width="1" height="1" fill="#45a6a8"/><rect x="1" y="6" width="1" height="1" fill="#45a6a8"/><rect x="2" y="6" width="1" height="1" fill="#45a6a8"/><rect x="3" y="6" width="1" height="1" fill="#7a86b4"/><rect x="4" y="6" width="1" height="1" fill="#45a6a8"/><rect x="5" y="6" width="1" height="1" fill="#72b8b6"/><rect x="6" y="6" width="1" height="1" fill="#7a86b4"/><rect x="7" y="6" width="1" height="1" fill="#7a86b4"/><rect x="8" y="6" width="1" height="1" fill="#933f78"/><rect x="9" y="6" width="1" height="1" fill="#933f78"/><rect x="10" y="6" width="1" height="1" fill="#c0809c"/><rect x="0" y="7" width="1" height="1" fill="#a45a86"/><rect x="1" y="7" width="1" height="1" fill="#45a6a8"/><rect x="2" y="7" width="1" height="1" fill="#72b8b6"/><rect x="3" y="7" width="1" height="1" fill="#a45a86"/><rect x="4" y="7" width="1" height="1" fill="#a45a86"/><rect x="5" y="7" width="1" height="1" fill="#45a6a8"/><rect x="6" y="7" width="1" height="1" fill="#7a86b4"/><rect x="7" y="7" width="1" height="1" fill="#45a6a8"/><rect x="8" y="7" width="1" height="1" fill="#933f78"/><rect x="9" y="7" width="1" height="1" fill="#5074b4"/><rect x="10" y="7" width="1" height="1" fill="#7a86b4"/><rect x="0" y="8" width="1" height="1" fill="#933f78"/><rect x="1" y="8" width="1" height="1" fill="#7a86b4"/><rect x="2" y="8" width="1" height="1" fill="#5074b4"/><rect x="3" y="8" width="1" height="1" fill="#933f78"/><rect x="4" y="8" width="1" height="1" fill="#933f78"/><rect x="5" y="8" width="1" height="1" fill="#45a6a8"/><rect x="6" y="8" width="1" height="1" fill="#45a6a8"/><rect x="7" y="8" width="1" height="1" fill="#45a6a8"/><rect x="8" y="8" width="1" height="1" fill="#72b8b6"/><rect x="9" y="8" width="1" height="1" fill="#d4a9b7"/><rect x="10" y="8" width="1" height="1" fill="#45a6a8"/><rect x="0" y="9" width="1" height="1" fill="#45a6a8"/><rect x="1" y="9" width="1" height="1" fill="#d4a9b7"/><rect x="2" y="9" width="1" height="1" fill="#5074b4"/><rect x="3" y="9" width="1" height="1" fill="#933f78"/><rect x="4" y="9" width="1" height="1" fill="#45a6a8"/><rect x="5" y="9" width="1" height="1" fill="#5074b4"/><rect x="6" y="9" width="1" height="1" fill="#a45a86"/><rect x="7" y="9" width="1" height="1" fill="#c0809c"/><rect x="8" y="9" width="1" height="1" fill="#933f78"/><rect x="9" y="9" width="1" height="1" fill="#45a6a8"/><rect x="10" y="9" width="1" height="1" fill="#7a86b4"/><rect x="0" y="10" width="1" height="1" fill="#45a6a8"/><rect x="1" y="10" width="1" height="1" fill="#c0809c"/><rect x="2" y="10" width="1" height="1" fill="#a45a86"/><rect x="3" y="10" width="1" height="1" fill="#45a6a8"/><rect x="4" y="10" width="1" height="1" fill="#72b8b6"/><rect x="5" y="10" width="1" height="1" fill="#7a86b4"/><rect x="6" y="10" width="1" height="1" fill="#5074b4"/><rect x="7" y="10" width="1" height="1" fill="#a45a86"/><rect x="8" y="10" width="1" height="1" fill="#45a6a8"/><rect x="9" y="10" width="1" height="1" fill="#933f78"/><rect x="10" y="10" width="1" height="1" fill="#45a6a8"/></pattern>
<filter id="bl" x="-5%" y="-5%" width="110%" height="110%"><feGaussianBlur stdDeviation="0.35"/></filter>
<pattern id="patB2" width="9" height="9" patternUnits="userSpaceOnUse"><rect x="0" y="0" width="1" height="1" fill="#952252"/><rect x="1" y="0" width="1" height="1" fill="#3aa6a4"/><rect x="2" y="0" width="1" height="1" fill="#4f7fb8"/><rect x="3" y="0" width="1" height="1" fill="#3aa6a4"/><rect x="4" y="0" width="1" height="1" fill="#d8839c"/><rect x="5" y="0" width="1" height="1" fill="#952252"/><rect x="6" y="0" width="1" height="1" fill="#3aa6a4"/><rect x="7" y="0" width="1" height="1" fill="#d8839c"/><rect x="8" y="0" width="1" height="1" fill="#3aa6a4"/><rect x="0" y="1" width="1" height="1" fill="#952252"/><rect x="1" y="1" width="1" height="1" fill="#3aa6a4"/><rect x="2" y="1" width="1" height="1" fill="#3aa6a4"/><rect x="3" y="1" width="1" height="1" fill="#952252"/><rect x="4" y="1" width="1" height="1" fill="#6cc0b8"/><rect x="5" y="1" width="1" height="1" fill="#3aa6a4"/><rect x="6" y="1" width="1" height="1" fill="#3aa6a4"/><rect x="7" y="1" width="1" height="1" fill="#d8839c"/><rect x="8" y="1" width="1" height="1" fill="#2a6f86"/><rect x="0" y="2" width="1" height="1" fill="#d8839c"/><rect x="1" y="2" width="1" height="1" fill="#952252"/><rect x="2" y="2" width="1" height="1" fill="#2a6f86"/><rect x="3" y="2" width="1" height="1" fill="#3aa6a4"/><rect x="4" y="2" width="1" height="1" fill="#6cc0b8"/><rect x="5" y="2" width="1" height="1" fill="#3aa6a4"/><rect x="6" y="2" width="1" height="1" fill="#3aa6a4"/><rect x="7" y="2" width="1" height="1" fill="#3aa6a4"/><rect x="8" y="2" width="1" height="1" fill="#3aa6a4"/><rect x="0" y="3" width="1" height="1" fill="#6cc0b8"/><rect x="1" y="3" width="1" height="1" fill="#3aa6a4"/><rect x="2" y="3" width="1" height="1" fill="#d8839c"/><rect x="3" y="3" width="1" height="1" fill="#d8839c"/><rect x="4" y="3" width="1" height="1" fill="#952252"/><rect x="5" y="3" width="1" height="1" fill="#d8839c"/><rect x="6" y="3" width="1" height="1" fill="#3aa6a4"/><rect x="7" y="3" width="1" height="1" fill="#3aa6a4"/><rect x="8" y="3" width="1" height="1" fill="#3aa6a4"/><rect x="0" y="4" width="1" height="1" fill="#4f7fb8"/><rect x="1" y="4" width="1" height="1" fill="#952252"/><rect x="2" y="4" width="1" height="1" fill="#3aa6a4"/><rect x="3" y="4" width="1" height="1" fill="#d8839c"/><rect x="4" y="4" width="1" height="1" fill="#952252"/><rect x="5" y="4" width="1" height="1" fill="#3aa6a4"/><rect x="6" y="4" width="1" height="1" fill="#6cc0b8"/><rect x="7" y="4" width="1" height="1" fill="#4f7fb8"/><rect x="8" y="4" width="1" height="1" fill="#3aa6a4"/><rect x="0" y="5" width="1" height="1" fill="#d8839c"/><rect x="1" y="5" width="1" height="1" fill="#d8839c"/><rect x="2" y="5" width="1" height="1" fill="#6cc0b8"/><rect x="3" y="5" width="1" height="1" fill="#4f7fb8"/><rect x="4" y="5" width="1" height="1" fill="#3aa6a4"/><rect x="5" y="5" width="1" height="1" fill="#2a6f86"/><rect x="6" y="5" width="1" height="1" fill="#3aa6a4"/><rect x="7" y="5" width="1" height="1" fill="#952252"/><rect x="8" y="5" width="1" height="1" fill="#4f7fb8"/><rect x="0" y="6" width="1" height="1" fill="#3aa6a4"/><rect x="1" y="6" width="1" height="1" fill="#d8839c"/><rect x="2" y="6" width="1" height="1" fill="#3aa6a4"/><rect x="3" y="6" width="1" height="1" fill="#4f7fb8"/><rect x="4" y="6" width="1" height="1" fill="#4f7fb8"/><rect x="5" y="6" width="1" height="1" fill="#d8839c"/><rect x="6" y="6" width="1" height="1" fill="#6cc0b8"/><rect x="7" y="6" width="1" height="1" fill="#3aa6a4"/><rect x="8" y="6" width="1" height="1" fill="#4f7fb8"/><rect x="0" y="7" width="1" height="1" fill="#d8839c"/><rect x="1" y="7" width="1" height="1" fill="#d8839c"/><rect x="2" y="7" width="1" height="1" fill="#952252"/><rect x="3" y="7" width="1" height="1" fill="#6cc0b8"/><rect x="4" y="7" width="1" height="1" fill="#2a6f86"/><rect x="5" y="7" width="1" height="1" fill="#d8839c"/><rect x="6" y="7" width="1" height="1" fill="#4f7fb8"/><rect x="7" y="7" width="1" height="1" fill="#3aa6a4"/><rect x="8" y="7" width="1" height="1" fill="#4f7fb8"/><rect x="0" y="8" width="1" height="1" fill="#4f7fb8"/><rect x="1" y="8" width="1" height="1" fill="#2a6f86"/><rect x="2" y="8" width="1" height="1" fill="#6cc0b8"/><rect x="3" y="8" width="1" height="1" fill="#3aa6a4"/><rect x="4" y="8" width="1" height="1" fill="#952252"/><rect x="5" y="8" width="1" height="1" fill="#4f7fb8"/><rect x="6" y="8" width="1" height="1" fill="#3aa6a4"/><rect x="7" y="8" width="1" height="1" fill="#952252"/><rect x="8" y="8" width="1" height="1" fill="#3aa6a4"/></pattern>
<pattern id="patPlat" width="5" height="5" patternUnits="userSpaceOnUse"><rect x="0" y="0" width="1" height="1" fill="#8a1a45"/><rect x="1" y="0" width="1" height="1" fill="#8a1a45"/><rect x="2" y="0" width="1" height="1" fill="#8a1a45"/><rect x="3" y="0" width="1" height="1" fill="#a04b70"/><rect x="4" y="0" width="1" height="1" fill="#8a1a45"/><rect x="0" y="1" width="1" height="1" fill="#8a1a45"/><rect x="1" y="1" width="1" height="1" fill="#a04b70"/><rect x="2" y="1" width="1" height="1" fill="#8a1a45"/><rect x="3" y="1" width="1" height="1" fill="#8a1a45"/><rect x="4" y="1" width="1" height="1" fill="#8a1a45"/><rect x="0" y="2" width="1" height="1" fill="#8a1a45"/><rect x="1" y="2" width="1" height="1" fill="#8a1a45"/><rect x="2" y="2" width="1" height="1" fill="#2f8fd0"/><rect x="3" y="2" width="1" height="1" fill="#8a1a45"/><rect x="4" y="2" width="1" height="1" fill="#2f8fd0"/><rect x="0" y="3" width="1" height="1" fill="#8a1a45"/><rect x="1" y="3" width="1" height="1" fill="#8a1a45"/><rect x="2" y="3" width="1" height="1" fill="#8a1a45"/><rect x="3" y="3" width="1" height="1" fill="#8a1a45"/><rect x="4" y="3" width="1" height="1" fill="#6a5a86"/><rect x="0" y="4" width="1" height="1" fill="#8a1a45"/><rect x="1" y="4" width="1" height="1" fill="#2f8fd0"/><rect x="2" y="4" width="1" height="1" fill="#8a1a45"/><rect x="3" y="4" width="1" height="1" fill="#2f8fd0"/><rect x="4" y="4" width="1" height="1" fill="#8a1a45"/></pattern>
<pattern id="patCond" width="5" height="5" patternUnits="userSpaceOnUse"><rect x="0" y="0" width="1" height="1" fill="#8a1a45"/><rect x="1" y="0" width="1" height="1" fill="#2c4a94"/><rect x="2" y="0" width="1" height="1" fill="#5b7aa9"/><rect x="3" y="0" width="1" height="1" fill="#8a1a45"/><rect x="4" y="0" width="1" height="1" fill="#8a1a45"/><rect x="0" y="1" width="1" height="1" fill="#2c4a94"/><rect x="1" y="1" width="1" height="1" fill="#6a79b9"/><rect x="2" y="1" width="1" height="1" fill="#8a1a45"/><rect x="3" y="1" width="1" height="1" fill="#2c4a94"/><rect x="4" y="1" width="1" height="1" fill="#a9b1c2"/><rect x="0" y="2" width="1" height="1" fill="#6a79b9"/><rect x="1" y="2" width="1" height="1" fill="#6a79b9"/><rect x="2" y="2" width="1" height="1" fill="#6a79b9"/><rect x="3" y="2" width="1" height="1" fill="#5b7aa9"/><rect x="4" y="2" width="1" height="1" fill="#a9b1c2"/><rect x="0" y="3" width="1" height="1" fill="#6a79b9"/><rect x="1" y="3" width="1" height="1" fill="#2f8fd0"/><rect x="2" y="3" width="1" height="1" fill="#2f8fd0"/><rect x="3" y="3" width="1" height="1" fill="#a9b1c2"/><rect x="4" y="3" width="1" height="1" fill="#2c4a94"/><rect x="0" y="4" width="1" height="1" fill="#6a79b9"/><rect x="1" y="4" width="1" height="1" fill="#6a79b9"/><rect x="2" y="4" width="1" height="1" fill="#2c4a94"/><rect x="3" y="4" width="1" height="1" fill="#6a79b9"/><rect x="4" y="4" width="1" height="1" fill="#6a79b9"/></pattern>
<g id="bsh"><path d="M194.60,67.00 C195.02,64.83 196.27,61.83 198.00,60.00 C199.73,58.17 202.67,56.80 205.00,56.00 C207.33,55.20 209.83,55.20 212.00,55.20 C214.17,55.20 216.50,55.95 218.00,56.00 C219.50,56.05 220.00,55.00 221.00,55.50 C222.00,56.00 222.67,57.42 224.00,59.00 C225.33,60.58 227.33,63.00 229.00,65.00 C230.67,67.00 232.58,68.83 234.00,71.00 C235.42,73.17 236.83,76.25 237.50,78.00 C238.17,79.75 238.75,80.83 238.00,81.50 C237.25,82.17 234.67,80.92 233.00,82.00 C231.33,83.08 229.17,86.25 228.00,88.00 C226.83,89.75 227.00,92.50 226.00,92.50 C225.00,92.50 224.00,89.17 222.00,88.00 C220.00,86.83 216.83,86.42 214.00,85.50 C211.17,84.58 207.50,83.75 205.00,82.50 C202.50,81.25 200.58,79.58 199.00,78.00 C197.42,76.42 196.23,74.83 195.50,73.00 C194.77,71.17 194.18,69.17 194.60,67.00Z"/><path d="M204.70,84.00 C205.12,82.73 206.78,82.57 208.00,82.40 C209.22,82.23 211.00,82.57 212.00,83.00 C213.00,83.43 214.00,83.50 214.00,85.00 C214.00,86.50 212.75,90.00 212.00,92.00 C211.25,94.00 210.08,95.27 209.50,97.00 C208.92,98.73 208.92,102.40 208.50,102.40 C208.08,102.40 207.50,99.07 207.00,97.00 C206.50,94.93 205.88,92.17 205.50,90.00 C205.12,87.83 204.28,85.27 204.70,84.00Z"/><path d="M253.50,29.00 C253.58,27.75 254.25,26.17 255.00,25.00 C255.75,23.83 256.83,22.75 258.00,22.00 C259.17,21.25 260.67,20.58 262.00,20.50 C263.33,20.42 264.67,21.25 266.00,21.50 C267.33,21.75 268.83,21.42 270.00,22.00 C271.17,22.58 272.47,23.83 273.00,25.00 C273.53,26.17 273.53,27.83 273.20,29.00 C272.87,30.17 271.87,31.17 271.00,32.00 C270.13,32.83 268.83,32.85 268.00,34.00 C267.17,35.15 266.55,38.23 266.00,38.90 C265.45,39.57 265.20,38.65 264.70,38.00 C264.20,37.35 263.78,35.25 263.00,35.00 C262.22,34.75 261.00,36.67 260.00,36.50 C259.00,36.33 257.92,34.67 257.00,34.00 C256.08,33.33 255.08,33.33 254.50,32.50 C253.92,31.67 253.42,30.25 253.50,29.00Z"/><path d="M266.80,60.00 C267.13,58.67 267.97,57.75 269.00,57.00 C270.03,56.25 271.92,55.67 273.00,55.50 C274.08,55.33 274.75,56.42 275.50,56.00 C276.25,55.58 276.75,53.08 277.50,53.00 C278.25,52.92 279.08,54.92 280.00,55.50 C280.92,56.08 281.83,56.25 283.00,56.50 C284.17,56.75 285.75,56.58 287.00,57.00 C288.25,57.42 289.83,58.00 290.50,59.00 C291.17,60.00 291.33,61.58 291.00,63.00 C290.67,64.42 289.58,66.00 288.50,67.50 C287.42,69.00 285.92,70.58 284.50,72.00 C283.08,73.42 281.42,74.67 280.00,76.00 C278.58,77.33 277.08,78.50 276.00,80.00 C274.92,81.50 274.03,83.42 273.50,85.00 C272.97,86.58 273.18,89.50 272.80,89.50 C272.42,89.50 271.67,86.92 271.20,85.00 C270.73,83.08 270.45,80.33 270.00,78.00 C269.55,75.67 269.00,73.17 268.50,71.00 C268.00,68.83 267.28,66.83 267.00,65.00 C266.72,63.17 266.47,61.33 266.80,60.00Z"/><path d="M236.00,100.00 C236.37,98.50 237.00,97.17 238.00,96.00 C239.00,94.83 240.67,93.62 242.00,93.00 C243.33,92.38 244.67,92.22 246.00,92.30 C247.33,92.38 248.67,93.05 250.00,93.50 C251.33,93.95 252.67,94.92 254.00,95.00 C255.33,95.08 256.67,94.00 258.00,94.00 C259.33,94.00 260.67,94.50 262.00,95.00 C263.33,95.50 264.67,96.00 266.00,97.00 C267.33,98.00 269.17,99.17 270.00,101.00 C270.83,102.83 271.00,105.50 271.00,108.00 C271.00,110.50 270.33,113.33 270.00,116.00 C269.67,118.67 269.58,121.50 269.00,124.00 C268.42,126.50 267.67,129.00 266.50,131.00 C265.33,133.00 263.75,134.87 262.00,136.00 C260.25,137.13 258.17,137.63 256.00,137.80 C253.83,137.97 250.83,137.63 249.00,137.00 C247.17,136.37 246.17,135.50 245.00,134.00 C243.83,132.50 243.00,130.33 242.00,128.00 C241.00,125.67 239.92,122.67 239.00,120.00 C238.08,117.33 237.03,114.50 236.50,112.00 C235.97,109.50 235.88,107.00 235.80,105.00 C235.72,103.00 235.63,101.50 236.00,100.00Z"/><path d="M289.00,78.00 C289.67,76.58 290.83,75.75 292.00,75.50 C293.17,75.25 294.67,76.58 296.00,76.50 C297.33,76.42 298.83,75.37 300.00,75.00 C301.17,74.63 302.00,74.13 303.00,74.30 C304.00,74.47 305.00,75.22 306.00,76.00 C307.00,76.78 308.00,78.00 309.00,79.00 C310.00,80.00 310.83,81.33 312.00,82.00 C313.17,82.67 314.50,83.00 316.00,83.00 C317.50,83.00 319.33,82.42 321.00,82.00 C322.67,81.58 324.87,80.33 326.00,80.50 C327.13,80.67 327.97,81.92 327.80,83.00 C327.63,84.08 326.13,85.83 325.00,87.00 C323.87,88.17 322.17,89.17 321.00,90.00 C319.83,90.83 318.17,91.00 318.00,92.00 C317.83,93.00 320.00,94.67 320.00,96.00 C320.00,97.33 319.00,98.67 318.00,100.00 C317.00,101.33 315.50,102.67 314.00,104.00 C312.50,105.33 310.83,106.92 309.00,108.00 C307.17,109.08 305.00,110.25 303.00,110.50 C301.00,110.75 298.83,110.25 297.00,109.50 C295.17,108.75 293.33,107.58 292.00,106.00 C290.67,104.42 289.75,102.33 289.00,100.00 C288.25,97.67 287.67,94.67 287.50,92.00 C287.33,89.33 287.75,86.33 288.00,84.00 C288.25,81.67 288.33,79.42 289.00,78.00Z"/><path d="M197.10,132.00 C197.35,129.17 198.02,128.33 199.00,127.00 C199.98,125.67 201.50,124.92 203.00,124.00 C204.50,123.08 206.50,122.17 208.00,121.50 C209.50,120.83 210.67,120.32 212.00,120.00 C213.33,119.68 214.67,119.35 216.00,119.60 C217.33,119.85 218.33,120.68 220.00,121.50 C221.67,122.32 225.50,123.58 226.00,124.50 C226.50,125.42 223.83,125.92 223.00,127.00 C222.17,128.08 221.33,129.33 221.00,131.00 C220.67,132.67 220.67,135.17 221.00,137.00 C221.33,138.83 222.75,140.17 223.00,142.00 C223.25,143.83 223.17,146.17 222.50,148.00 C221.83,149.83 220.75,151.75 219.00,153.00 C217.25,154.25 214.33,155.17 212.00,155.50 C209.67,155.83 207.00,155.75 205.00,155.00 C203.00,154.25 201.25,152.83 200.00,151.00 C198.75,149.17 197.98,147.17 197.50,144.00 C197.02,140.83 196.85,134.83 197.10,132.00Z"/></g>
<g id="bst"><g fill="none" stroke-linecap="round"><path d="M236.5,59 C239,56 241,54 244.2,53.1 C248,52 252,51 254.1,51.3 C256.5,52 257.3,53 257,55 C256.5,57 255.5,58 255,58.5" stroke-width="4.2"/><path d="M241.5,61.7 L245,66 L248.7,72" stroke-width="3.6"/><path d="M244,71 L244.5,77.4" stroke-width="1.3"/><path d="M233.4,68 L238.8,68.6" stroke-width="1.0"/><path d="M238,58 L239,63" stroke-width="3.0"/></g></g>
</defs>
<filter id="rough" x="-10%" y="-10%" width="120%" height="120%"><feTurbulence type="fractalNoise" baseFrequency="0.9" numOctaves="2" seed="3" result="n"/><feDisplacementMap in="SourceGraphic" in2="n" scale="2.2" xChannelSelector="R" yChannelSelector="G" result="d"/><feGaussianBlur in="d" stdDeviation="0.3"/></filter>
<g filter="url(#rough)"><use href="#bsh" fill="url(#patB)" stroke="#46aea8" stroke-width="1.4" stroke-opacity="0.6"/></g>
<use href="#bst" stroke="url(#patB)"/>
<g fill="none" stroke-linecap="round" stroke="#8a2a5a" stroke-opacity="0.7"><path d="M246,54 C250,52 253,51.5 256,53 L255.5,57.5" stroke-width="1.8"/><path d="M244,66 L248.2,71.5" stroke-width="2"/><path d="M237.5,58.5 L238.5,63" stroke-width="2"/></g>
<g fill="none" stroke-linecap="round" stroke="#3a8fb0" stroke-opacity="0.7"><path d="M240,56 C244,53.5 249,52.3 254,52" stroke-width="1.2"/><path d="M248,57.5 L252,58.5" stroke="#3aa6a4" stroke-width="1"/></g>
<path d="M246.60,94.00 C247.02,92.05 247.85,92.13 248.50,92.30 C249.15,92.47 250.17,92.88 250.50,95.00 C250.83,97.12 250.42,101.67 250.50,105.00 C250.58,108.33 251.00,111.67 251.00,115.00 C251.00,118.33 250.92,121.72 250.50,125.00 C250.08,128.28 249.50,133.20 248.50,134.70 C247.50,136.20 245.72,135.12 244.50,134.00 C243.28,132.88 241.87,130.67 241.20,128.00 C240.53,125.33 240.20,120.67 240.50,118.00 C240.80,115.33 242.08,114.33 243.00,112.00 C243.92,109.67 245.40,107.00 246.00,104.00 C246.60,101.00 246.18,95.95 246.60,94.00Z" fill="#f2b8b0" fill-opacity="0.92"/>
<path d="M256.00,100.00 C257.17,97.83 260.00,97.00 262.00,97.00 C264.00,97.00 266.58,98.17 268.00,100.00 C269.42,101.83 270.25,104.67 270.50,108.00 C270.75,111.33 270.25,116.33 269.50,120.00 C268.75,123.67 267.58,128.17 266.00,130.00 C264.42,131.83 261.67,132.67 260.00,131.00 C258.33,129.33 256.83,123.50 256.00,120.00 C255.17,116.50 255.00,113.33 255.00,110.00 C255.00,106.67 254.83,102.17 256.00,100.00Z" fill="#4a8eb0" fill-opacity="0.35"/>
<path d="M232.50,116.60 C232.50,115.77 232.58,114.18 233.00,114.00 C233.42,113.82 234.33,115.50 235.00,115.50 C235.67,115.50 236.33,113.92 237.00,114.00 C237.67,114.08 238.08,115.50 239.00,116.00 C239.92,116.50 241.83,116.25 242.50,117.00 C243.17,117.75 244.08,119.92 243.00,120.50 C241.92,121.08 237.67,120.75 236.00,120.50 C234.33,120.25 233.58,119.65 233.00,119.00 C232.42,118.35 232.50,117.43 232.50,116.60Z" fill="#7886c4"/>
<g stroke="#3551a0" stroke-linecap="round" fill="none"><path d="M229.5,122.6 L242.5,122.9" stroke-width="4.6"/><path d="M232,133.5 L240,125.5" stroke-width="3.4"/></g>
<path d="M258.00,134.00 C258.33,133.18 260.83,132.48 262.00,132.40 C263.17,132.32 264.67,132.82 265.00,133.50 C265.33,134.18 264.83,135.87 264.00,136.50 C263.17,137.13 261.00,137.72 260.00,137.30 C259.00,136.88 257.67,134.82 258.00,134.00Z" fill="#8a1a45" fill-opacity="0.9"/>
<g stroke="#4a5fae" stroke-linecap="round" fill="none" stroke-width="1.1"><path d="M263,33 L263.4,38.5"/><path d="M265.5,33 L267,37.5"/><path d="M267.5,32 L269.5,35.5"/></g>
<path d="M311.00,84.50 C311.50,83.30 314.33,83.22 316.00,82.80 C317.67,82.38 319.33,82.38 321.00,82.00 C322.67,81.62 324.87,80.33 326.00,80.50 C327.13,80.67 327.97,81.92 327.80,83.00 C327.63,84.08 326.13,85.83 325.00,87.00 C323.87,88.17 322.33,89.08 321.00,90.00 C319.67,90.92 318.33,92.50 317.00,92.50 C315.67,92.50 314.00,91.33 313.00,90.00 C312.00,88.67 310.50,85.70 311.00,84.50Z" fill="#1f6079"/>
<path d="M293.50,106.50 C294.00,106.00 295.75,107.25 297.00,108.00 C298.25,108.75 299.67,109.67 301.00,111.00 C302.33,112.33 303.67,114.33 305.00,116.00 C306.33,117.67 308.28,119.62 309.00,121.00 C309.72,122.38 309.80,123.72 309.30,124.30 C308.80,124.88 307.22,125.30 306.00,124.50 C304.78,123.70 303.33,121.00 302.00,119.50 C300.67,118.00 299.33,116.92 298.00,115.50 C296.67,114.08 294.75,112.50 294.00,111.00 C293.25,109.50 293.00,107.00 293.50,106.50Z" fill="#1f6079"/>
<path d="M318.00,91.00 C318.50,90.25 320.83,90.00 321.50,90.50 C322.17,91.00 322.25,92.98 322.00,94.00 C321.75,95.02 320.58,96.43 320.00,96.60 C319.42,96.77 318.83,95.93 318.50,95.00 C318.17,94.07 317.50,91.75 318.00,91.00Z" fill="#d8577b" fill-opacity="0.85"/>
<path d="M302.00,110.00 C302.00,109.25 304.17,109.00 305.00,109.50 C305.83,110.00 307.00,112.25 307.00,113.00 C307.00,113.75 305.83,114.50 305.00,114.00 C304.17,113.50 302.00,110.75 302.00,110.00Z" fill="#d8577b" fill-opacity="0.7"/>
<path d="M197.20,131.00 C196.95,130.42 198.03,128.58 199.00,127.50 C199.97,126.42 202.00,124.75 203.00,124.50 C204.00,124.25 205.42,124.92 205.00,126.00 C204.58,127.08 201.80,130.17 200.50,131.00 C199.20,131.83 197.45,131.58 197.20,131.00Z" fill="#2f7fbf" fill-opacity="0.7"/>
<g fill="none" stroke-linecap="round" stroke-opacity="0.6"><path d="M266,99 C272,97 280,98 289,99" stroke="#3aa6a4" stroke-width="2.2"/><path d="M268,104 C276,103 283,104 290,103" stroke="#d8839c" stroke-width="1.3"/><path d="M270,108 C278,108 285,108.5 292,107" stroke="#3aa6a4" stroke-width="1.2"/></g>
<path d="M255.4,50.5 L258.5,44.3" stroke="#6a8aa8" stroke-width="0.5"/><path d="M273,86 L273,98" stroke="#8fb0c0" stroke-width="0.5" stroke-dasharray="0.8,0.8"/>
<ellipse cx="215" cy="104.5" rx="0.8" ry="4.5" fill="#952252" fill-opacity="0.8" transform="rotate(15 215 104.5)"/>
<ellipse cx="203.9" cy="89.3" rx="1.1" ry="0.6" fill="#3aa6a4"/>
<ellipse cx="257" cy="74.3" rx="1.4" ry="0.4" fill="#3aa6a4"/>
<filter id="ero" x="-5%" y="-5%" width="110%" height="110%"><feMorphology operator="erode" radius="0.45"/></filter>
<g filter="url(#ero)"><g transform="translate(292.6,23.2) scale(0.225,0.23) translate(-197,-28)"><use href="#bsh" fill="#8a1a45" stroke="#8a1a45" stroke-width="1.2"/><use href="#bsh" fill="url(#patPlat)" fill-opacity="0.5"/><use href="#bst" stroke="#8a1a45"/></g>
<g fill="#2f8fd0" fill-opacity="0.85"><ellipse cx="311.5" cy="32.5" rx="1.8" ry="1.4" fill="#2f8fd0"/><ellipse cx="317.5" cy="37.5" rx="2.0" ry="2.2" fill="#2f8fd0"/><ellipse cx="305" cy="42.5" rx="1.6" ry="2.2" fill="#2f8fd0"/><ellipse cx="302.5" cy="45.5" rx="1.2" ry="1.0" fill="#2f8fd0"/><ellipse cx="320.5" cy="40" rx="1.2" ry="0.8" fill="#2f8fd0"/></g></g>
<g filter="url(#ero)"><g transform="translate(292.2,133.7) scale(0.225,0.23) translate(-197,-28)"><use href="#bsh" fill="#74739f" stroke="#74739f" stroke-width="1.2"/><use href="#bsh" fill="url(#patCond)" fill-opacity="0.55"/><use href="#bst" stroke="#8a1a45"/></g></g></g><g id="pC" filter="url(#rough2)"><path d="M22.90,256.00 C23.12,254.67 23.65,252.58 24.50,251.50 C25.35,250.42 26.75,249.90 28.00,249.50 C29.25,249.10 30.83,249.02 32.00,249.10 C33.17,249.18 34.17,249.52 35.00,250.00 C35.83,250.48 36.75,250.83 37.00,252.00 C37.25,253.17 36.92,255.42 36.50,257.00 C36.08,258.58 35.58,260.35 34.50,261.50 C33.42,262.65 31.50,263.73 30.00,263.90 C28.50,264.07 26.63,263.23 25.50,262.50 C24.37,261.77 23.63,260.58 23.20,259.50 C22.77,258.42 22.68,257.33 22.90,256.00Z" fill="#86acd2"/>
<path d="M37.80,247.00 C38.17,245.42 38.72,243.00 39.50,241.50 C40.28,240.00 41.42,238.92 42.50,238.00 C43.58,237.08 44.75,236.42 46.00,236.00 C47.25,235.58 48.75,235.42 50.00,235.50 C51.25,235.58 52.42,235.92 53.50,236.50 C54.58,237.08 55.78,237.75 56.50,239.00 C57.22,240.25 57.80,242.33 57.80,244.00 C57.80,245.67 56.88,247.42 56.50,249.00 C56.12,250.58 56.42,252.17 55.50,253.50 C54.58,254.83 52.58,256.50 51.00,257.00 C49.42,257.50 47.42,256.83 46.00,256.50 C44.58,256.17 43.58,255.42 42.50,255.00 C41.42,254.58 40.37,254.67 39.50,254.00 C38.63,253.33 37.58,252.17 37.30,251.00 C37.02,249.83 37.43,248.58 37.80,247.00Z" fill="#7fbf52"/>
<path d="M55.00,243.00 C55.33,242.12 56.83,240.75 58.00,240.00 C59.17,239.25 60.75,239.17 62.00,238.50 C63.25,237.83 64.83,237.08 65.50,236.00 C66.17,234.92 65.58,233.00 66.00,232.00 C66.42,231.00 67.17,230.42 68.00,230.00 C68.83,229.58 70.17,229.75 71.00,229.50 C71.83,229.25 72.33,228.25 73.00,228.50 C73.67,228.75 74.17,230.33 75.00,231.00 C75.83,231.67 76.80,232.17 78.00,232.50 C79.20,232.83 81.87,232.42 82.20,233.00 C82.53,233.58 80.70,235.08 80.00,236.00 C79.30,236.92 78.25,237.67 78.00,238.50 C77.75,239.33 78.83,240.17 78.50,241.00 C78.17,241.83 76.92,242.92 76.00,243.50 C75.08,244.08 73.67,244.08 73.00,244.50 C72.33,244.92 71.83,245.13 72.00,246.00 C72.17,246.87 74.08,249.20 74.00,249.70 C73.92,250.20 72.42,249.70 71.50,249.00 C70.58,248.30 69.58,246.00 68.50,245.50 C67.42,245.00 66.42,246.00 65.00,246.00 C63.58,246.00 61.50,245.62 60.00,245.50 C58.50,245.38 56.83,245.72 56.00,245.30 C55.17,244.88 54.67,243.88 55.00,243.00Z" fill="#a7a29d"/>
<path d="M54.90,225.00 C55.03,223.92 55.32,223.03 56.00,222.50 C56.68,221.97 57.83,221.88 59.00,221.80 C60.17,221.72 61.82,221.72 63.00,222.00 C64.18,222.28 65.60,222.75 66.10,223.50 C66.60,224.25 66.52,225.80 66.00,226.50 C65.48,227.20 64.08,227.40 63.00,227.70 C61.92,228.00 60.28,227.75 59.50,228.30 C58.72,228.85 58.58,229.97 58.30,231.00 C58.02,232.03 58.15,234.08 57.80,234.50 C57.45,234.92 56.63,234.42 56.20,233.50 C55.77,232.58 55.42,230.42 55.20,229.00 C54.98,227.58 54.77,226.08 54.90,225.00Z" fill="#a8582f"/>
<path d="M22.10,228.00 C22.27,226.67 22.68,224.67 23.50,223.50 C24.32,222.33 25.75,221.50 27.00,221.00 C28.25,220.50 29.83,220.25 31.00,220.50 C32.17,220.75 33.00,221.58 34.00,222.50 C35.00,223.42 36.00,224.83 37.00,226.00 C38.00,227.17 39.32,228.58 40.00,229.50 C40.68,230.42 41.35,230.92 41.10,231.50 C40.85,232.08 39.18,232.42 38.50,233.00 C37.82,233.58 37.75,234.92 37.00,235.00 C36.25,235.08 34.92,233.42 34.00,233.50 C33.08,233.58 32.17,234.15 31.50,235.50 C30.83,236.85 30.50,241.35 30.00,241.60 C29.50,241.85 29.33,238.35 28.50,237.00 C27.67,235.65 26.00,234.42 25.00,233.50 C24.00,232.58 22.98,232.42 22.50,231.50 C22.02,230.58 21.93,229.33 22.10,228.00Z" fill="#e05a45"/>
<path d="M45.20,221.00 C45.37,220.25 46.40,219.75 47.00,219.80 C47.60,219.85 48.55,220.60 48.80,221.30 C49.05,222.00 48.97,223.50 48.50,224.00 C48.03,224.50 46.55,224.80 46.00,224.30 C45.45,223.80 45.03,221.75 45.20,221.00Z" fill="#d9a25e"/>
<path d="M40.10,223.00 C40.35,222.17 41.23,221.08 42.00,221.00 C42.77,220.92 44.28,221.58 44.70,222.50 C45.12,223.42 44.87,225.55 44.50,226.50 C44.13,227.45 43.17,228.28 42.50,228.20 C41.83,228.12 40.90,226.87 40.50,226.00 C40.10,225.13 39.85,223.83 40.10,223.00Z" fill="#8e5fbf"/>
<path d="M56.44,209.00 L54.82,209.77 L55.95,211.41 L54.02,211.10 L53.86,212.64 L52.63,211.98 L51.46,214.12 L50.80,212.07 L48.95,212.75 L49.81,210.54 L47.74,210.31 L49.31,209.00 L48.22,207.83 L49.90,207.52 L49.45,205.82 L50.75,205.82 L51.48,204.00 L52.68,205.65 L54.28,204.44 L54.04,206.87 L55.85,206.65 L55.29,208.09Z" fill="#2f56c2"/>
<path d="M64.60,228.70 C64.60,228.20 66.18,228.00 67.00,228.30 C67.82,228.60 69.50,230.00 69.50,230.50 C69.50,231.00 67.82,231.60 67.00,231.30 C66.18,231.00 64.60,229.20 64.60,228.70Z" fill="#c87840"/>
<ellipse cx="32.9" cy="221.5" rx="0.9" ry="0.7" fill="#2f56c2"/>
<ellipse cx="31.6" cy="242" rx="0.6" ry="1.6" fill="#8e5fbf" transform="rotate(20 31.6 242)"/>
<ellipse cx="41.5" cy="241.3" rx="1.0" ry="0.7" fill="#e05a45"/>
<ellipse cx="47.8" cy="237.5" rx="0.5" ry="0.9" fill="#2f56c2"/>
</g><g>
<text x="52.4" y="210.2" font-size="3.6" fill="#1a1a1a" text-anchor="middle">OPC</text>
<text x="49.3" y="220.2" font-size="3.6" fill="#1a1a1a" text-anchor="middle">Endo</text>
<text x="47.1" y="229.4" font-size="3.6" fill="#1a1a1a" text-anchor="middle">Peri</text>
<text x="29.7" y="229.0" font-size="3.6" fill="#1a1a1a" text-anchor="middle">Astro</text>
<text x="60.7" y="227.0" font-size="3.6" fill="#1a1a1a" text-anchor="middle">Inh</text>
<text x="72.2" y="239.3" font-size="3.6" fill="#1a1a1a" text-anchor="middle">Exc</text>
<text x="48.5" y="247.9" font-size="3.6" fill="#1a1a1a" text-anchor="middle">Oligo</text>
<text x="29.6" y="259.2" font-size="3.6" fill="#1a1a1a" text-anchor="middle">Micro</text></g><g id="pE" filter="url(#roughE)"><defs><g id="eshape"><path d="M22.90,256.00 C23.12,254.67 23.65,252.58 24.50,251.50 C25.35,250.42 26.75,249.90 28.00,249.50 C29.25,249.10 30.83,249.02 32.00,249.10 C33.17,249.18 34.17,249.52 35.00,250.00 C35.83,250.48 36.75,250.83 37.00,252.00 C37.25,253.17 36.92,255.42 36.50,257.00 C36.08,258.58 35.58,260.35 34.50,261.50 C33.42,262.65 31.50,263.73 30.00,263.90 C28.50,264.07 26.63,263.23 25.50,262.50 C24.37,261.77 23.63,260.58 23.20,259.50 C22.77,258.42 22.68,257.33 22.90,256.00Z"/><path d="M37.80,247.00 C38.17,245.42 38.72,243.00 39.50,241.50 C40.28,240.00 41.42,238.92 42.50,238.00 C43.58,237.08 44.75,236.42 46.00,236.00 C47.25,235.58 48.75,235.42 50.00,235.50 C51.25,235.58 52.42,235.92 53.50,236.50 C54.58,237.08 55.78,237.75 56.50,239.00 C57.22,240.25 57.80,242.33 57.80,244.00 C57.80,245.67 56.88,247.42 56.50,249.00 C56.12,250.58 56.42,252.17 55.50,253.50 C54.58,254.83 52.58,256.50 51.00,257.00 C49.42,257.50 47.42,256.83 46.00,256.50 C44.58,256.17 43.58,255.42 42.50,255.00 C41.42,254.58 40.37,254.67 39.50,254.00 C38.63,253.33 37.58,252.17 37.30,251.00 C37.02,249.83 37.43,248.58 37.80,247.00Z"/><path d="M55.00,243.00 C55.33,242.12 56.83,240.75 58.00,240.00 C59.17,239.25 60.75,239.17 62.00,238.50 C63.25,237.83 64.83,237.08 65.50,236.00 C66.17,234.92 65.58,233.00 66.00,232.00 C66.42,231.00 67.17,230.42 68.00,230.00 C68.83,229.58 70.17,229.75 71.00,229.50 C71.83,229.25 72.33,228.25 73.00,228.50 C73.67,228.75 74.17,230.33 75.00,231.00 C75.83,231.67 76.80,232.17 78.00,232.50 C79.20,232.83 81.87,232.42 82.20,233.00 C82.53,233.58 80.70,235.08 80.00,236.00 C79.30,236.92 78.25,237.67 78.00,238.50 C77.75,239.33 78.83,240.17 78.50,241.00 C78.17,241.83 76.92,242.92 76.00,243.50 C75.08,244.08 73.67,244.08 73.00,244.50 C72.33,244.92 71.83,245.13 72.00,246.00 C72.17,246.87 74.08,249.20 74.00,249.70 C73.92,250.20 72.42,249.70 71.50,249.00 C70.58,248.30 69.58,246.00 68.50,245.50 C67.42,245.00 66.42,246.00 65.00,246.00 C63.58,246.00 61.50,245.62 60.00,245.50 C58.50,245.38 56.83,245.72 56.00,245.30 C55.17,244.88 54.67,243.88 55.00,243.00Z"/><path d="M54.90,225.00 C55.03,223.92 55.32,223.03 56.00,222.50 C56.68,221.97 57.83,221.88 59.00,221.80 C60.17,221.72 61.82,221.72 63.00,222.00 C64.18,222.28 65.60,222.75 66.10,223.50 C66.60,224.25 66.52,225.80 66.00,226.50 C65.48,227.20 64.08,227.40 63.00,227.70 C61.92,228.00 60.28,227.75 59.50,228.30 C58.72,228.85 58.58,229.97 58.30,231.00 C58.02,232.03 58.15,234.08 57.80,234.50 C57.45,234.92 56.63,234.42 56.20,233.50 C55.77,232.58 55.42,230.42 55.20,229.00 C54.98,227.58 54.77,226.08 54.90,225.00Z"/><path d="M45.20,221.00 C45.37,220.25 46.40,219.75 47.00,219.80 C47.60,219.85 48.55,220.60 48.80,221.30 C49.05,222.00 48.97,223.50 48.50,224.00 C48.03,224.50 46.55,224.80 46.00,224.30 C45.45,223.80 45.03,221.75 45.20,221.00Z"/><path d="M40.10,223.00 C40.35,222.17 41.23,221.08 42.00,221.00 C42.77,220.92 44.28,221.58 44.70,222.50 C45.12,223.42 44.87,225.55 44.50,226.50 C44.13,227.45 43.17,228.28 42.50,228.20 C41.83,228.12 40.90,226.87 40.50,226.00 C40.10,225.13 39.85,223.83 40.10,223.00Z"/><path d="M56.44,209.00 L54.82,209.77 L55.95,211.41 L54.02,211.10 L53.86,212.64 L52.63,211.98 L51.46,214.12 L50.80,212.07 L48.95,212.75 L49.81,210.54 L47.74,210.31 L49.31,209.00 L48.22,207.83 L49.90,207.52 L49.45,205.82 L50.75,205.82 L51.48,204.00 L52.68,205.65 L54.28,204.44 L54.04,206.87 L55.85,206.65 L55.29,208.09Z"/></g></defs>
<g transform="translate(221,-5.5) scale(1.16,1.119)">
<use href="#eshape" fill="#d9d4d5"/>
<path d="M56.44,209.00 L54.82,209.77 L55.95,211.41 L54.02,211.10 L53.86,212.64 L52.63,211.98 L51.46,214.12 L50.80,212.07 L48.95,212.75 L49.81,210.54 L47.74,210.31 L49.31,209.00 L48.22,207.83 L49.90,207.52 L49.45,205.82 L50.75,205.82 L51.48,204.00 L52.68,205.65 L54.28,204.44 L54.04,206.87 L55.85,206.65 L55.29,208.09Z" fill="#e3c9cc"/>
<path d="M40.50,222.00 C40.67,220.67 41.92,219.25 43.00,218.50 C44.08,217.75 45.92,217.33 47.00,217.50 C48.08,217.67 49.25,218.58 49.50,219.50 C49.75,220.42 49.25,222.00 48.50,223.00 C47.75,224.00 46.08,224.92 45.00,225.50 C43.92,226.08 42.75,227.08 42.00,226.50 C41.25,225.92 40.33,223.33 40.50,222.00Z" fill="#e6bfc3" fill-opacity="0.9"/>
<path d="M22.10,228.00 C22.27,226.67 22.68,224.67 23.50,223.50 C24.32,222.33 25.75,221.50 27.00,221.00 C28.25,220.50 29.83,220.25 31.00,220.50 C32.17,220.75 33.00,221.58 34.00,222.50 C35.00,223.42 36.00,224.83 37.00,226.00 C38.00,227.17 39.32,228.58 40.00,229.50 C40.68,230.42 41.35,230.92 41.10,231.50 C40.85,232.08 39.18,232.42 38.50,233.00 C37.82,233.58 37.75,234.92 37.00,235.00 C36.25,235.08 34.92,233.42 34.00,233.50 C33.08,233.58 32.17,234.15 31.50,235.50 C30.83,236.85 30.50,241.35 30.00,241.60 C29.50,241.85 29.33,238.35 28.50,237.00 C27.67,235.65 26.00,234.42 25.00,233.50 C24.00,232.58 22.98,232.42 22.50,231.50 C22.02,230.58 21.93,229.33 22.10,228.00Z" fill="#d64a4c"/>
<path d="M25.00,226.00 C25.33,224.83 26.83,223.42 28.00,223.00 C29.17,222.58 31.00,222.83 32.00,223.50 C33.00,224.17 34.33,225.92 34.00,227.00 C33.67,228.08 31.33,229.50 30.00,230.00 C28.67,230.50 26.83,230.67 26.00,230.00 C25.17,229.33 24.67,227.17 25.00,226.00Z" fill="#b82a30" fill-opacity="0.45"/>
<path d="M36.00,228.00 C36.75,227.75 38.67,228.92 39.50,229.50 C40.33,230.08 41.25,230.92 41.00,231.50 C40.75,232.08 39.00,233.08 38.00,233.00 C37.00,232.92 35.33,231.83 35.00,231.00 C34.67,230.17 35.25,228.25 36.00,228.00Z" fill="#e58a8c" fill-opacity="0.7"/>
<ellipse cx="41" cy="242.4" rx="1.6" ry="1.2" fill="#d86a6e" fill-opacity="0.75"/>
<ellipse cx="69" cy="229.6" rx="1.2" ry="0.8" fill="#e09a9c" fill-opacity="0.6499999999999999"/>
</g>
<g transform="translate(289.2,-7.2) scale(1.16,1.119)">
<use href="#eshape" fill="#d9d4d5"/>
<path d="M56.44,209.00 L54.82,209.77 L55.95,211.41 L54.02,211.10 L53.86,212.64 L52.63,211.98 L51.46,214.12 L50.80,212.07 L48.95,212.75 L49.81,210.54 L47.74,210.31 L49.31,209.00 L48.22,207.83 L49.90,207.52 L49.45,205.82 L50.75,205.82 L51.48,204.00 L52.68,205.65 L54.28,204.44 L54.04,206.87 L55.85,206.65 L55.29,208.09Z" fill="#dcd0d2"/>
<path d="M40.50,222.00 C40.67,220.67 41.92,219.25 43.00,218.50 C44.08,217.75 45.92,217.33 47.00,217.50 C48.08,217.67 49.25,218.58 49.50,219.50 C49.75,220.42 49.25,222.00 48.50,223.00 C47.75,224.00 46.08,224.92 45.00,225.50 C43.92,226.08 42.75,227.08 42.00,226.50 C41.25,225.92 40.33,223.33 40.50,222.00Z" fill="#e6bfc3" fill-opacity="0.9"/>
<path d="M22.10,228.00 C22.27,226.67 22.68,224.67 23.50,223.50 C24.32,222.33 25.75,221.50 27.00,221.00 C28.25,220.50 29.83,220.25 31.00,220.50 C32.17,220.75 33.00,221.58 34.00,222.50 C35.00,223.42 36.00,224.83 37.00,226.00 C38.00,227.17 39.32,228.58 40.00,229.50 C40.68,230.42 41.35,230.92 41.10,231.50 C40.85,232.08 39.18,232.42 38.50,233.00 C37.82,233.58 37.75,234.92 37.00,235.00 C36.25,235.08 34.92,233.42 34.00,233.50 C33.08,233.58 32.17,234.15 31.50,235.50 C30.83,236.85 30.50,241.35 30.00,241.60 C29.50,241.85 29.33,238.35 28.50,237.00 C27.67,235.65 26.00,234.42 25.00,233.50 C24.00,232.58 22.98,232.42 22.50,231.50 C22.02,230.58 21.93,229.33 22.10,228.00Z" fill="#d65054"/>
<path d="M25.00,226.00 C25.33,224.83 26.83,223.42 28.00,223.00 C29.17,222.58 31.00,222.83 32.00,223.50 C33.00,224.17 34.33,225.92 34.00,227.00 C33.67,228.08 31.33,229.50 30.00,230.00 C28.67,230.50 26.83,230.67 26.00,230.00 C25.17,229.33 24.67,227.17 25.00,226.00Z" fill="#b82a30" fill-opacity="0.45"/>
<path d="M36.00,228.00 C36.75,227.75 38.67,228.92 39.50,229.50 C40.33,230.08 41.25,230.92 41.00,231.50 C40.75,232.08 39.00,233.08 38.00,233.00 C37.00,232.92 35.33,231.83 35.00,231.00 C34.67,230.17 35.25,228.25 36.00,228.00Z" fill="#e58a8c" fill-opacity="0.7"/>
<ellipse cx="41" cy="242.4" rx="1.6" ry="1.2" fill="#d86a6e" fill-opacity="0.6000000000000001"/>
<ellipse cx="69" cy="229.6" rx="1.2" ry="0.8" fill="#e09a9c" fill-opacity="0.5"/>
</g>
<g transform="translate(220.5,79.5) scale(1.16,1.119)">
<use href="#eshape" fill="#d9d4d5"/>
<path d="M56.44,209.00 L54.82,209.77 L55.95,211.41 L54.02,211.10 L53.86,212.64 L52.63,211.98 L51.46,214.12 L50.80,212.07 L48.95,212.75 L49.81,210.54 L47.74,210.31 L49.31,209.00 L48.22,207.83 L49.90,207.52 L49.45,205.82 L50.75,205.82 L51.48,204.00 L52.68,205.65 L54.28,204.44 L54.04,206.87 L55.85,206.65 L55.29,208.09Z" fill="#dccfd1"/>
<path d="M40.50,222.00 C40.67,220.67 41.92,219.25 43.00,218.50 C44.08,217.75 45.92,217.33 47.00,217.50 C48.08,217.67 49.25,218.58 49.50,219.50 C49.75,220.42 49.25,222.00 48.50,223.00 C47.75,224.00 46.08,224.92 45.00,225.50 C43.92,226.08 42.75,227.08 42.00,226.50 C41.25,225.92 40.33,223.33 40.50,222.00Z" fill="#e6bfc3" fill-opacity="0.9"/>
<path d="M22.10,228.00 C22.27,226.67 22.68,224.67 23.50,223.50 C24.32,222.33 25.75,221.50 27.00,221.00 C28.25,220.50 29.83,220.25 31.00,220.50 C32.17,220.75 33.00,221.58 34.00,222.50 C35.00,223.42 36.00,224.83 37.00,226.00 C38.00,227.17 39.32,228.58 40.00,229.50 C40.68,230.42 41.35,230.92 41.10,231.50 C40.85,232.08 39.18,232.42 38.50,233.00 C37.82,233.58 37.75,234.92 37.00,235.00 C36.25,235.08 34.92,233.42 34.00,233.50 C33.08,233.58 32.17,234.15 31.50,235.50 C30.83,236.85 30.50,241.35 30.00,241.60 C29.50,241.85 29.33,238.35 28.50,237.00 C27.67,235.65 26.00,234.42 25.00,233.50 C24.00,232.58 22.98,232.42 22.50,231.50 C22.02,230.58 21.93,229.33 22.10,228.00Z" fill="#c93538"/>
<path d="M25.00,226.00 C25.33,224.83 26.83,223.42 28.00,223.00 C29.17,222.58 31.00,222.83 32.00,223.50 C33.00,224.17 34.33,225.92 34.00,227.00 C33.67,228.08 31.33,229.50 30.00,230.00 C28.67,230.50 26.83,230.67 26.00,230.00 C25.17,229.33 24.67,227.17 25.00,226.00Z" fill="#b82a30" fill-opacity="0.45"/>
<path d="M36.00,228.00 C36.75,227.75 38.67,228.92 39.50,229.50 C40.33,230.08 41.25,230.92 41.00,231.50 C40.75,232.08 39.00,233.08 38.00,233.00 C37.00,232.92 35.33,231.83 35.00,231.00 C34.67,230.17 35.25,228.25 36.00,228.00Z" fill="#e58a8c" fill-opacity="0.7"/>
<ellipse cx="41" cy="242.4" rx="1.6" ry="1.2" fill="#d86a6e" fill-opacity="0.8"/>
<ellipse cx="69" cy="229.6" rx="1.2" ry="0.8" fill="#e09a9c" fill-opacity="0.7"/>
</g>
<g transform="translate(289.2,79.5) scale(1.16,1.119)">
<use href="#eshape" fill="#d9d4d5"/>
<path d="M56.44,209.00 L54.82,209.77 L55.95,211.41 L54.02,211.10 L53.86,212.64 L52.63,211.98 L51.46,214.12 L50.80,212.07 L48.95,212.75 L49.81,210.54 L47.74,210.31 L49.31,209.00 L48.22,207.83 L49.90,207.52 L49.45,205.82 L50.75,205.82 L51.48,204.00 L52.68,205.65 L54.28,204.44 L54.04,206.87 L55.85,206.65 L55.29,208.09Z" fill="#e39a9c"/>
<path d="M40.50,222.00 C40.67,220.67 41.92,219.25 43.00,218.50 C44.08,217.75 45.92,217.33 47.00,217.50 C48.08,217.67 49.25,218.58 49.50,219.50 C49.75,220.42 49.25,222.00 48.50,223.00 C47.75,224.00 46.08,224.92 45.00,225.50 C43.92,226.08 42.75,227.08 42.00,226.50 C41.25,225.92 40.33,223.33 40.50,222.00Z" fill="#e6bfc3" fill-opacity="0.9"/>
<path d="M22.10,228.00 C22.27,226.67 22.68,224.67 23.50,223.50 C24.32,222.33 25.75,221.50 27.00,221.00 C28.25,220.50 29.83,220.25 31.00,220.50 C32.17,220.75 33.00,221.58 34.00,222.50 C35.00,223.42 36.00,224.83 37.00,226.00 C38.00,227.17 39.32,228.58 40.00,229.50 C40.68,230.42 41.35,230.92 41.10,231.50 C40.85,232.08 39.18,232.42 38.50,233.00 C37.82,233.58 37.75,234.92 37.00,235.00 C36.25,235.08 34.92,233.42 34.00,233.50 C33.08,233.58 32.17,234.15 31.50,235.50 C30.83,236.85 30.50,241.35 30.00,241.60 C29.50,241.85 29.33,238.35 28.50,237.00 C27.67,235.65 26.00,234.42 25.00,233.50 C24.00,232.58 22.98,232.42 22.50,231.50 C22.02,230.58 21.93,229.33 22.10,228.00Z" fill="#cd3d40"/>
<path d="M25.00,226.00 C25.33,224.83 26.83,223.42 28.00,223.00 C29.17,222.58 31.00,222.83 32.00,223.50 C33.00,224.17 34.33,225.92 34.00,227.00 C33.67,228.08 31.33,229.50 30.00,230.00 C28.67,230.50 26.83,230.67 26.00,230.00 C25.17,229.33 24.67,227.17 25.00,226.00Z" fill="#b82a30" fill-opacity="0.45"/>
<path d="M36.00,228.00 C36.75,227.75 38.67,228.92 39.50,229.50 C40.33,230.08 41.25,230.92 41.00,231.50 C40.75,232.08 39.00,233.08 38.00,233.00 C37.00,232.92 35.33,231.83 35.00,231.00 C34.67,230.17 35.25,228.25 36.00,228.00Z" fill="#e58a8c" fill-opacity="0.7"/>
<ellipse cx="41" cy="242.4" rx="1.6" ry="1.2" fill="#d86a6e" fill-opacity="0.8"/>
<ellipse cx="69" cy="229.6" rx="1.2" ry="0.8" fill="#e09a9c" fill-opacity="0.7"/>
</g></g><g id="pF" filter="url(#rough2)"><path d="M37.69,323.80 L37.08,324.78 L37.03,325.86 L35.96,326.33 L35.59,327.40 L34.28,326.91 L33.79,329.51 L32.70,327.06 L31.25,328.67 L31.08,326.73 L29.41,327.07 L29.92,325.47 L28.69,324.89 L29.14,323.80 L28.84,322.75 L30.17,322.26 L29.90,320.96 L31.20,321.04 L31.38,319.25 L32.61,319.80 L33.68,319.02 L34.23,320.82 L35.73,319.98 L36.19,321.06 L36.95,321.78 L36.72,322.91Z" fill="#a8603a"/>
<path d="M37.5,324 C40,324.5 42,324.8 45,324.8" stroke="#a8603a" stroke-width="1.1" fill="none"/>
<path d="M63.90,346.00 C63.98,344.58 64.32,342.67 65.00,341.50 C65.68,340.33 66.83,339.47 68.00,339.00 C69.17,338.53 70.67,338.57 72.00,338.70 C73.33,338.83 74.87,339.08 76.00,339.80 C77.13,340.52 78.38,341.55 78.80,343.00 C79.22,344.45 78.88,347.00 78.50,348.50 C78.12,350.00 77.58,351.23 76.50,352.00 C75.42,352.77 73.58,353.00 72.00,353.10 C70.42,353.20 68.25,353.12 67.00,352.60 C65.75,352.08 65.02,351.10 64.50,350.00 C63.98,348.90 63.82,347.42 63.90,346.00Z" fill="#d39a52"/>
<path d="M33.40,353.40 C33.40,352.12 33.82,351.17 34.50,350.30 C35.18,349.43 36.30,349.23 37.50,348.20 C38.70,347.17 40.32,344.10 41.70,344.10 C43.08,344.10 44.62,347.17 45.80,348.20 C46.98,349.23 48.12,349.78 48.80,350.30 C49.48,350.82 49.98,350.62 49.90,351.30 C49.82,351.98 48.48,353.28 48.30,354.40 C48.12,355.52 49.22,357.32 48.80,358.00 C48.38,358.68 46.65,358.07 45.80,358.50 C44.95,358.93 44.65,359.92 43.70,360.60 C42.75,361.28 40.95,362.60 40.10,362.60 C39.25,362.60 39.53,361.37 38.60,360.60 C37.67,359.83 35.37,359.20 34.50,358.00 C33.63,356.80 33.40,354.68 33.40,353.40Z" fill="#a8a4a0"/>
<path d="M24.20,358.50 C24.28,356.43 24.85,353.02 25.70,351.30 C26.55,349.58 28.02,349.05 29.30,348.20 C30.58,347.35 31.85,346.53 33.40,346.20 C34.95,345.87 37.57,345.68 38.60,346.20 C39.63,346.72 40.28,348.28 39.60,349.30 C38.92,350.32 35.53,350.93 34.50,352.30 C33.47,353.67 32.72,356.12 33.40,357.50 C34.08,358.88 37.57,359.57 38.60,360.60 C39.63,361.63 39.95,362.68 39.60,363.70 C39.25,364.72 37.87,365.68 36.50,366.70 C35.13,367.72 32.68,369.45 31.40,369.80 C30.12,370.15 29.48,369.48 28.80,368.80 C28.12,368.12 27.90,366.55 27.30,365.70 C26.70,364.85 25.72,364.90 25.20,363.70 C24.68,362.50 24.12,360.57 24.20,358.50Z" fill="#e05a45"/>
<path d="M44.20,324.00 C44.45,323.17 45.28,322.37 46.00,322.00 C46.72,321.63 47.68,321.47 48.50,321.80 C49.32,322.13 50.60,323.05 50.90,324.00 C51.20,324.95 50.78,326.58 50.30,327.50 C49.82,328.42 48.67,328.83 48.00,329.50 C47.33,330.17 46.75,331.58 46.30,331.50 C45.85,331.42 45.60,329.75 45.30,329.00 C45.00,328.25 44.68,327.83 44.50,327.00 C44.32,326.17 43.95,324.83 44.20,324.00Z" fill="#86c052"/>
<path d="M33.40,345.80 C33.40,345.20 34.98,343.58 36.00,343.00 C37.02,342.42 38.47,342.22 39.50,342.30 C40.53,342.38 41.87,342.82 42.20,343.50 C42.53,344.18 42.53,345.88 41.50,346.40 C40.47,346.92 37.35,346.70 36.00,346.60 C34.65,346.50 33.40,346.40 33.40,345.80Z" fill="#8e5fbf"/>
<path d="M52.60,370.00 C52.68,369.17 53.93,371.67 54.50,371.50 C55.07,371.33 55.37,369.25 56.00,369.00 C56.63,368.75 58.05,369.17 58.30,370.00 C58.55,370.83 57.88,372.78 57.50,374.00 C57.12,375.22 56.58,376.88 56.00,377.30 C55.42,377.72 54.57,377.72 54.00,376.50 C53.43,375.28 52.52,370.83 52.60,370.00Z" fill="#80a8ce"/>
<path d="M34.73,338.70 L33.69,339.46 L34.10,340.80 L32.73,340.66 L32.21,342.17 L31.27,340.58 L30.15,341.21 L29.74,340.26 L28.64,339.78 L29.58,338.70 L27.93,337.36 L29.93,337.30 L29.73,335.46 L31.22,336.55 L32.22,335.21 L32.58,336.99 L34.31,336.43 L33.90,337.86Z" fill="#3a5fc0"/>
<path d="M27.80,346.00 C28.00,345.17 28.90,344.17 29.50,344.00 C30.10,343.83 31.23,344.12 31.40,345.00 C31.57,345.88 31.02,348.63 30.50,349.30 C29.98,349.97 28.75,349.55 28.30,349.00 C27.85,348.45 27.60,346.83 27.80,346.00Z" fill="#3a5fc0" fill-opacity="0.9"/>
<ellipse cx="45.5" cy="331.2" rx="0.6" ry="0.9" fill="#6a8acc"/>
<ellipse cx="62.9" cy="350" rx="0.9" ry="0.5" fill="#e8b0a0"/>
</g><g>
<text x="33.1" y="325.3" font-size="4.0" fill="#222" text-anchor="middle">3</text>
<text x="47.6" y="327.6" font-size="4.0" fill="#222" text-anchor="middle">5</text>
<text x="31.0" y="363.0" font-size="4.0" fill="#222" text-anchor="middle">0</text>
<text x="41.7" y="354.9" font-size="4.0" fill="#222" text-anchor="middle">2</text>
<text x="71.1" y="348.0" font-size="4.0" fill="#222" text-anchor="middle">1</text>
<text x="55.5" y="375.0" font-size="4.0" fill="#222" text-anchor="middle">4</text>
<text x="31.6" y="340.2" font-size="4.0" fill="#222" text-anchor="middle">6</text></g>
<g stroke="#e8302e" stroke-width="0.95" stroke-dasharray="1.5,1.0" fill="none">
<circle cx="29.6" cy="227.3" r="10.8"/>
<path d="M19.2,231 L7.6,307.5"/>
<path d="M38.5,232.5 L88.2,307.3"/>
</g>
</svg></body></html>
